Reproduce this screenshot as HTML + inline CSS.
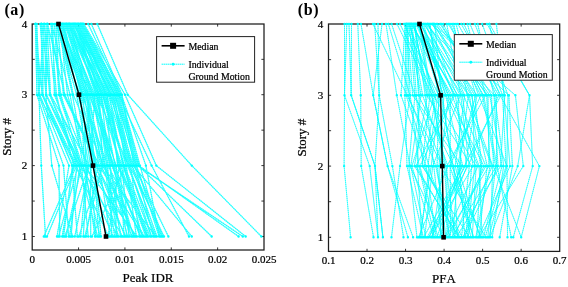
<!DOCTYPE html>
<html lang="en"><head><meta charset="utf-8"><title>Figure</title>
<style>
html,body{margin:0;padding:0;background:#fff}
svg{display:block}
text{font-family:"Liberation Serif",serif;fill:#000;font-kerning:none;stroke:#000;stroke-width:0.22px}
.tk{font-size:11px}
.al{font-size:13px}
.lg{font-size:9.85px}
.pl{font-size:16px;font-weight:bold;fill:#000;letter-spacing:0.6px;stroke-width:0}
</style></head><body>
<svg width="568" height="287" viewBox="0 0 568 287">
<rect width="568" height="287" fill="#fff"/>
<path d="M78.56 250.0v-2.6M78.56 24.0v2.6M124.92 250.0v-2.6M124.92 24.0v2.6M171.28 250.0v-2.6M171.28 24.0v2.6M217.64 250.0v-2.6M217.64 24.0v2.6M32.2 94.70h2.6M264.0 94.70h-2.6M32.2 165.60h2.6M264.0 165.60h-2.6M32.2 236.50h2.6M264.0 236.50h-2.6M32.2 59.35h2.6M264.0 59.35h-2.6M32.2 130.15h2.6M264.0 130.15h-2.6M32.2 201.05h2.6M264.0 201.05h-2.6" stroke="#222" stroke-width="0.9" fill="none"/>
<rect x="32.2" y="24.0" width="231.80" height="226.00" fill="none" stroke="#1c1c1c" stroke-width="1.25"/>
<defs><path id="ln1" d="M50.9 24.0L56.4 94.7L73.6 165.6L62.2 236.5M73.1 24.0L111.4 94.7L127.5 165.6L155.8 236.5M88.2 24.0L121.4 94.7L145.9 165.6L159.2 236.5M61.8 24.0L85.4 94.7L102.7 165.6L78.8 236.5M62.5 24.0L78.0 94.7L96.0 165.6L118.6 236.5M47.8 24.0L55.2 94.7L76.6 165.6L71.1 236.5M71.7 24.0L105.5 94.7L123.8 165.6L148.2 236.5M43.2 24.0L42.9 94.7L76.4 165.6L47.0 236.5M47.6 24.0L64.8 94.7L99.4 165.6L110.2 236.5M81.2 24.0L118.5 94.7L151.6 165.6L189.0 236.5M52.7 24.0L54.4 94.7L81.5 165.6L66.2 236.5M80.3 24.0L114.3 94.7L125.9 165.6L92.0 236.5M83.0 24.0L118.9 94.7L136.5 165.6L159.1 236.5M70.3 24.0L98.0 94.7L108.0 165.6L144.1 236.5M74.8 24.0L101.3 94.7L115.0 165.6L139.9 236.5M84.0 24.0L120.5 94.7L140.0 165.6L160.3 236.5M62.7 24.0L84.5 94.7L94.0 165.6L98.9 236.5M57.0 24.0L64.4 94.7L97.5 165.6L125.0 236.5M41.4 24.0L42.2 94.7L74.8 165.6L43.8 236.5M66.6 24.0L93.1 94.7L112.8 165.6L131.4 236.5M82.7 24.0L120.2 94.7L138.4 165.6L211.7 236.5M78.5 24.0L105.6 94.7L118.4 165.6L150.1 236.5M50.9 24.0L60.9 94.7L80.4 165.6L122.6 236.5M54.4 24.0L58.9 94.7L82.4 165.6L113.2 236.5M57.3 24.0L72.4 94.7L85.1 165.6L95.0 236.5M70.7 24.0L102.5 94.7L124.5 165.6L151.5 236.5M62.0 24.0L83.2 94.7L101.0 165.6L135.3 236.5M69.2 24.0L107.4 94.7L110.2 165.6L120.5 236.5M71.5 24.0L95.9 94.7L112.9 165.6L133.5 236.5M60.6 24.0L87.1 94.7L92.0 165.6L126.0 236.5M66.1 24.0L88.7 94.7L102.0 165.6L155.8 236.5M68.4 24.0L92.4 94.7L105.3 165.6L121.4 236.5M65.2 24.0L94.7 94.7L90.7 165.6L95.8 236.5M74.0 24.0L102.5 94.7L120.6 165.6L145.8 236.5M83.8 24.0L125.0 94.7L156.3 165.6L245.7 236.5M75.1 24.0L106.8 94.7L123.7 165.6L142.1 236.5M66.7 24.0L85.9 94.7L99.1 165.6L143.4 236.5M36.8 24.0L39.7 94.7L69.0 165.6L57.0 236.5M72.4 24.0L101.0 94.7L109.4 165.6L127.6 236.5M35.2 24.0L42.1 94.7L72.4 165.6L63.6 236.5M41.2 24.0L42.2 94.7L72.0 165.6L77.3 236.5M77.8 24.0L110.9 94.7L129.7 165.6L164.0 236.5M76.8 24.0L99.2 94.7L102.7 165.6L84.8 236.5M64.2 24.0L91.9 94.7L110.4 165.6L111.6 236.5M36.8 24.0L38.7 94.7L63.5 165.6L68.7 236.5M59.9 24.0L67.5 94.7L87.1 165.6L80.7 236.5M56.8 24.0L76.6 94.7L88.8 165.6L64.8 236.5M75.9 24.0L112.0 94.7L133.2 165.6L191.8 236.5M91.4 24.0L122.0 94.7L133.8 165.6L168.4 236.5M69.9 24.0L90.2 94.7L111.8 165.6L140.8 236.5M56.0 24.0L59.6 94.7L87.4 165.6L83.3 236.5M44.7 24.0L45.9 94.7L79.0 165.6L97.6 236.5M65.8 24.0L94.4 94.7L115.9 165.6L129.5 236.5M63.7 24.0L81.2 94.7L96.7 165.6L132.5 236.5M44.8 24.0L49.6 94.7L78.2 165.6L58.6 236.5M67.4 24.0L98.6 94.7L121.8 165.6L129.0 236.5M46.8 24.0L46.4 94.7L81.6 165.6L88.2 236.5M81.0 24.0L116.2 94.7L135.1 165.6L153.3 236.5M79.8 24.0L110.1 94.7L117.6 165.6L147.4 236.5M80.7 24.0L109.9 94.7L131.8 165.6L156.9 236.5M57.5 24.0L63.4 94.7L97.9 165.6L86.0 236.5M74.2 24.0L114.9 94.7L136.1 165.6L162.8 236.5M64.9 24.0L86.8 94.7L104.7 165.6L114.6 236.5M57.8 24.0L83.3 94.7L85.9 165.6L117.3 236.5M60.2 24.0L82.1 94.7L107.7 165.6L112.0 236.5M41.6 24.0L50.0 94.7L79.9 165.6L69.5 236.5M40.2 24.0L45.9 94.7L51.8 165.6L72.7 236.5M76.9 24.0L116.8 94.7L137.4 165.6L242.8 236.5M63.6 24.0L81.0 94.7L84.3 165.6L137.0 236.5M69.3 24.0L87.8 94.7L94.9 165.6L101.0 236.5M78.8 24.0L108.9 94.7L122.8 165.6L147.0 236.5M35.8 24.0L38.6 94.7L75.6 165.6L108.5 236.5M55.8 24.0L80.0 94.7L90.5 165.6L90.7 236.5M67.8 24.0L99.8 94.7L120.2 165.6L124.0 236.5M72.7 24.0L96.2 94.7L128.7 165.6L154.5 236.5M59.5 24.0L73.2 94.7L103.9 165.6L134.3 236.5M79.0 24.0L112.9 94.7L130.8 165.6L139.2 236.5M68.6 24.0L104.3 94.7L119.4 165.6L108.0 236.5M44.0 24.0L39.0 94.7L41.3 165.6L45.5 236.5M51.7 24.0L70.0 94.7L83.2 165.6L100.1 236.5M77.5 24.0L103.5 94.7L126.3 165.6L136.4 236.5M73.6 24.0L108.2 94.7L129.0 165.6L151.5 236.5M35.4 24.0L36.9 94.7L59.0 165.6L59.7 236.5M82.5 24.0L117.7 94.7L138.9 165.6L238.6 236.5M75.6 24.0L97.0 94.7L106.7 165.6L117.4 236.5M81.7 24.0L115.0 94.7L132.1 165.6L161.9 236.5M58.0 24.0L91.4 94.7L116.2 165.6L116.0 236.5M61.1 24.0L89.3 94.7L114.1 165.6L127.0 236.5M47.0 24.0L50.5 94.7L89.2 165.6L74.8 236.5M97.3 24.0L127.7 94.7L191.8 165.6L261.4 236.5"/></defs>
<use href="#ln1" fill="none" stroke="#00ffff" stroke-width="1.15" stroke-opacity="0.55" stroke-linejoin="round"/>
<use href="#ln1" fill="none" stroke="#00ffff" stroke-width="1.15" stroke-opacity="0.8" stroke-dasharray="1.2 0.8" stroke-linejoin="round"/>
<path d="M49.7 24.0a1.2 1.2 0 1 0 2.4 0a1.2 1.2 0 1 0 -2.4 0M55.2 94.7a1.2 1.2 0 1 0 2.4 0a1.2 1.2 0 1 0 -2.4 0M72.4 165.6a1.2 1.2 0 1 0 2.4 0a1.2 1.2 0 1 0 -2.4 0M61.0 236.5a1.2 1.2 0 1 0 2.4 0a1.2 1.2 0 1 0 -2.4 0M71.9 24.0a1.2 1.2 0 1 0 2.4 0a1.2 1.2 0 1 0 -2.4 0M110.2 94.7a1.2 1.2 0 1 0 2.4 0a1.2 1.2 0 1 0 -2.4 0M126.3 165.6a1.2 1.2 0 1 0 2.4 0a1.2 1.2 0 1 0 -2.4 0M154.6 236.5a1.2 1.2 0 1 0 2.4 0a1.2 1.2 0 1 0 -2.4 0M87.0 24.0a1.2 1.2 0 1 0 2.4 0a1.2 1.2 0 1 0 -2.4 0M120.2 94.7a1.2 1.2 0 1 0 2.4 0a1.2 1.2 0 1 0 -2.4 0M144.7 165.6a1.2 1.2 0 1 0 2.4 0a1.2 1.2 0 1 0 -2.4 0M158.0 236.5a1.2 1.2 0 1 0 2.4 0a1.2 1.2 0 1 0 -2.4 0M60.6 24.0a1.2 1.2 0 1 0 2.4 0a1.2 1.2 0 1 0 -2.4 0M84.2 94.7a1.2 1.2 0 1 0 2.4 0a1.2 1.2 0 1 0 -2.4 0M101.5 165.6a1.2 1.2 0 1 0 2.4 0a1.2 1.2 0 1 0 -2.4 0M77.6 236.5a1.2 1.2 0 1 0 2.4 0a1.2 1.2 0 1 0 -2.4 0M61.3 24.0a1.2 1.2 0 1 0 2.4 0a1.2 1.2 0 1 0 -2.4 0M76.8 94.7a1.2 1.2 0 1 0 2.4 0a1.2 1.2 0 1 0 -2.4 0M94.8 165.6a1.2 1.2 0 1 0 2.4 0a1.2 1.2 0 1 0 -2.4 0M117.4 236.5a1.2 1.2 0 1 0 2.4 0a1.2 1.2 0 1 0 -2.4 0M46.6 24.0a1.2 1.2 0 1 0 2.4 0a1.2 1.2 0 1 0 -2.4 0M54.0 94.7a1.2 1.2 0 1 0 2.4 0a1.2 1.2 0 1 0 -2.4 0M75.4 165.6a1.2 1.2 0 1 0 2.4 0a1.2 1.2 0 1 0 -2.4 0M69.9 236.5a1.2 1.2 0 1 0 2.4 0a1.2 1.2 0 1 0 -2.4 0M70.5 24.0a1.2 1.2 0 1 0 2.4 0a1.2 1.2 0 1 0 -2.4 0M104.3 94.7a1.2 1.2 0 1 0 2.4 0a1.2 1.2 0 1 0 -2.4 0M122.6 165.6a1.2 1.2 0 1 0 2.4 0a1.2 1.2 0 1 0 -2.4 0M147.0 236.5a1.2 1.2 0 1 0 2.4 0a1.2 1.2 0 1 0 -2.4 0M42.0 24.0a1.2 1.2 0 1 0 2.4 0a1.2 1.2 0 1 0 -2.4 0M41.7 94.7a1.2 1.2 0 1 0 2.4 0a1.2 1.2 0 1 0 -2.4 0M75.2 165.6a1.2 1.2 0 1 0 2.4 0a1.2 1.2 0 1 0 -2.4 0M45.8 236.5a1.2 1.2 0 1 0 2.4 0a1.2 1.2 0 1 0 -2.4 0M46.4 24.0a1.2 1.2 0 1 0 2.4 0a1.2 1.2 0 1 0 -2.4 0M63.6 94.7a1.2 1.2 0 1 0 2.4 0a1.2 1.2 0 1 0 -2.4 0M98.2 165.6a1.2 1.2 0 1 0 2.4 0a1.2 1.2 0 1 0 -2.4 0M109.0 236.5a1.2 1.2 0 1 0 2.4 0a1.2 1.2 0 1 0 -2.4 0M80.0 24.0a1.2 1.2 0 1 0 2.4 0a1.2 1.2 0 1 0 -2.4 0M117.3 94.7a1.2 1.2 0 1 0 2.4 0a1.2 1.2 0 1 0 -2.4 0M150.4 165.6a1.2 1.2 0 1 0 2.4 0a1.2 1.2 0 1 0 -2.4 0M187.8 236.5a1.2 1.2 0 1 0 2.4 0a1.2 1.2 0 1 0 -2.4 0M51.5 24.0a1.2 1.2 0 1 0 2.4 0a1.2 1.2 0 1 0 -2.4 0M53.2 94.7a1.2 1.2 0 1 0 2.4 0a1.2 1.2 0 1 0 -2.4 0M80.3 165.6a1.2 1.2 0 1 0 2.4 0a1.2 1.2 0 1 0 -2.4 0M65.0 236.5a1.2 1.2 0 1 0 2.4 0a1.2 1.2 0 1 0 -2.4 0M79.1 24.0a1.2 1.2 0 1 0 2.4 0a1.2 1.2 0 1 0 -2.4 0M113.1 94.7a1.2 1.2 0 1 0 2.4 0a1.2 1.2 0 1 0 -2.4 0M124.7 165.6a1.2 1.2 0 1 0 2.4 0a1.2 1.2 0 1 0 -2.4 0M90.8 236.5a1.2 1.2 0 1 0 2.4 0a1.2 1.2 0 1 0 -2.4 0M81.8 24.0a1.2 1.2 0 1 0 2.4 0a1.2 1.2 0 1 0 -2.4 0M117.7 94.7a1.2 1.2 0 1 0 2.4 0a1.2 1.2 0 1 0 -2.4 0M135.3 165.6a1.2 1.2 0 1 0 2.4 0a1.2 1.2 0 1 0 -2.4 0M157.9 236.5a1.2 1.2 0 1 0 2.4 0a1.2 1.2 0 1 0 -2.4 0M69.1 24.0a1.2 1.2 0 1 0 2.4 0a1.2 1.2 0 1 0 -2.4 0M96.8 94.7a1.2 1.2 0 1 0 2.4 0a1.2 1.2 0 1 0 -2.4 0M106.8 165.6a1.2 1.2 0 1 0 2.4 0a1.2 1.2 0 1 0 -2.4 0M142.9 236.5a1.2 1.2 0 1 0 2.4 0a1.2 1.2 0 1 0 -2.4 0M73.6 24.0a1.2 1.2 0 1 0 2.4 0a1.2 1.2 0 1 0 -2.4 0M100.1 94.7a1.2 1.2 0 1 0 2.4 0a1.2 1.2 0 1 0 -2.4 0M113.8 165.6a1.2 1.2 0 1 0 2.4 0a1.2 1.2 0 1 0 -2.4 0M138.7 236.5a1.2 1.2 0 1 0 2.4 0a1.2 1.2 0 1 0 -2.4 0M82.8 24.0a1.2 1.2 0 1 0 2.4 0a1.2 1.2 0 1 0 -2.4 0M119.3 94.7a1.2 1.2 0 1 0 2.4 0a1.2 1.2 0 1 0 -2.4 0M138.8 165.6a1.2 1.2 0 1 0 2.4 0a1.2 1.2 0 1 0 -2.4 0M159.1 236.5a1.2 1.2 0 1 0 2.4 0a1.2 1.2 0 1 0 -2.4 0M61.5 24.0a1.2 1.2 0 1 0 2.4 0a1.2 1.2 0 1 0 -2.4 0M83.3 94.7a1.2 1.2 0 1 0 2.4 0a1.2 1.2 0 1 0 -2.4 0M92.8 165.6a1.2 1.2 0 1 0 2.4 0a1.2 1.2 0 1 0 -2.4 0M97.7 236.5a1.2 1.2 0 1 0 2.4 0a1.2 1.2 0 1 0 -2.4 0M55.8 24.0a1.2 1.2 0 1 0 2.4 0a1.2 1.2 0 1 0 -2.4 0M63.2 94.7a1.2 1.2 0 1 0 2.4 0a1.2 1.2 0 1 0 -2.4 0M96.3 165.6a1.2 1.2 0 1 0 2.4 0a1.2 1.2 0 1 0 -2.4 0M123.8 236.5a1.2 1.2 0 1 0 2.4 0a1.2 1.2 0 1 0 -2.4 0M40.2 24.0a1.2 1.2 0 1 0 2.4 0a1.2 1.2 0 1 0 -2.4 0M41.0 94.7a1.2 1.2 0 1 0 2.4 0a1.2 1.2 0 1 0 -2.4 0M73.6 165.6a1.2 1.2 0 1 0 2.4 0a1.2 1.2 0 1 0 -2.4 0M42.6 236.5a1.2 1.2 0 1 0 2.4 0a1.2 1.2 0 1 0 -2.4 0M65.4 24.0a1.2 1.2 0 1 0 2.4 0a1.2 1.2 0 1 0 -2.4 0M91.9 94.7a1.2 1.2 0 1 0 2.4 0a1.2 1.2 0 1 0 -2.4 0M111.6 165.6a1.2 1.2 0 1 0 2.4 0a1.2 1.2 0 1 0 -2.4 0M130.2 236.5a1.2 1.2 0 1 0 2.4 0a1.2 1.2 0 1 0 -2.4 0M81.5 24.0a1.2 1.2 0 1 0 2.4 0a1.2 1.2 0 1 0 -2.4 0M119.0 94.7a1.2 1.2 0 1 0 2.4 0a1.2 1.2 0 1 0 -2.4 0M137.2 165.6a1.2 1.2 0 1 0 2.4 0a1.2 1.2 0 1 0 -2.4 0M210.5 236.5a1.2 1.2 0 1 0 2.4 0a1.2 1.2 0 1 0 -2.4 0M77.3 24.0a1.2 1.2 0 1 0 2.4 0a1.2 1.2 0 1 0 -2.4 0M104.4 94.7a1.2 1.2 0 1 0 2.4 0a1.2 1.2 0 1 0 -2.4 0M117.2 165.6a1.2 1.2 0 1 0 2.4 0a1.2 1.2 0 1 0 -2.4 0M148.9 236.5a1.2 1.2 0 1 0 2.4 0a1.2 1.2 0 1 0 -2.4 0M49.7 24.0a1.2 1.2 0 1 0 2.4 0a1.2 1.2 0 1 0 -2.4 0M59.7 94.7a1.2 1.2 0 1 0 2.4 0a1.2 1.2 0 1 0 -2.4 0M79.2 165.6a1.2 1.2 0 1 0 2.4 0a1.2 1.2 0 1 0 -2.4 0M121.4 236.5a1.2 1.2 0 1 0 2.4 0a1.2 1.2 0 1 0 -2.4 0M53.2 24.0a1.2 1.2 0 1 0 2.4 0a1.2 1.2 0 1 0 -2.4 0M57.7 94.7a1.2 1.2 0 1 0 2.4 0a1.2 1.2 0 1 0 -2.4 0M81.2 165.6a1.2 1.2 0 1 0 2.4 0a1.2 1.2 0 1 0 -2.4 0M112.0 236.5a1.2 1.2 0 1 0 2.4 0a1.2 1.2 0 1 0 -2.4 0M56.1 24.0a1.2 1.2 0 1 0 2.4 0a1.2 1.2 0 1 0 -2.4 0M71.2 94.7a1.2 1.2 0 1 0 2.4 0a1.2 1.2 0 1 0 -2.4 0M83.9 165.6a1.2 1.2 0 1 0 2.4 0a1.2 1.2 0 1 0 -2.4 0M93.8 236.5a1.2 1.2 0 1 0 2.4 0a1.2 1.2 0 1 0 -2.4 0M69.5 24.0a1.2 1.2 0 1 0 2.4 0a1.2 1.2 0 1 0 -2.4 0M101.3 94.7a1.2 1.2 0 1 0 2.4 0a1.2 1.2 0 1 0 -2.4 0M123.3 165.6a1.2 1.2 0 1 0 2.4 0a1.2 1.2 0 1 0 -2.4 0M150.3 236.5a1.2 1.2 0 1 0 2.4 0a1.2 1.2 0 1 0 -2.4 0M60.8 24.0a1.2 1.2 0 1 0 2.4 0a1.2 1.2 0 1 0 -2.4 0M82.0 94.7a1.2 1.2 0 1 0 2.4 0a1.2 1.2 0 1 0 -2.4 0M99.8 165.6a1.2 1.2 0 1 0 2.4 0a1.2 1.2 0 1 0 -2.4 0M134.1 236.5a1.2 1.2 0 1 0 2.4 0a1.2 1.2 0 1 0 -2.4 0M68.0 24.0a1.2 1.2 0 1 0 2.4 0a1.2 1.2 0 1 0 -2.4 0M106.2 94.7a1.2 1.2 0 1 0 2.4 0a1.2 1.2 0 1 0 -2.4 0M109.0 165.6a1.2 1.2 0 1 0 2.4 0a1.2 1.2 0 1 0 -2.4 0M119.3 236.5a1.2 1.2 0 1 0 2.4 0a1.2 1.2 0 1 0 -2.4 0M70.3 24.0a1.2 1.2 0 1 0 2.4 0a1.2 1.2 0 1 0 -2.4 0M94.7 94.7a1.2 1.2 0 1 0 2.4 0a1.2 1.2 0 1 0 -2.4 0M111.7 165.6a1.2 1.2 0 1 0 2.4 0a1.2 1.2 0 1 0 -2.4 0M132.3 236.5a1.2 1.2 0 1 0 2.4 0a1.2 1.2 0 1 0 -2.4 0M59.4 24.0a1.2 1.2 0 1 0 2.4 0a1.2 1.2 0 1 0 -2.4 0M85.9 94.7a1.2 1.2 0 1 0 2.4 0a1.2 1.2 0 1 0 -2.4 0M90.8 165.6a1.2 1.2 0 1 0 2.4 0a1.2 1.2 0 1 0 -2.4 0M124.8 236.5a1.2 1.2 0 1 0 2.4 0a1.2 1.2 0 1 0 -2.4 0M64.9 24.0a1.2 1.2 0 1 0 2.4 0a1.2 1.2 0 1 0 -2.4 0M87.5 94.7a1.2 1.2 0 1 0 2.4 0a1.2 1.2 0 1 0 -2.4 0M100.8 165.6a1.2 1.2 0 1 0 2.4 0a1.2 1.2 0 1 0 -2.4 0M154.6 236.5a1.2 1.2 0 1 0 2.4 0a1.2 1.2 0 1 0 -2.4 0M67.2 24.0a1.2 1.2 0 1 0 2.4 0a1.2 1.2 0 1 0 -2.4 0M91.2 94.7a1.2 1.2 0 1 0 2.4 0a1.2 1.2 0 1 0 -2.4 0M104.1 165.6a1.2 1.2 0 1 0 2.4 0a1.2 1.2 0 1 0 -2.4 0M120.2 236.5a1.2 1.2 0 1 0 2.4 0a1.2 1.2 0 1 0 -2.4 0M64.0 24.0a1.2 1.2 0 1 0 2.4 0a1.2 1.2 0 1 0 -2.4 0M93.5 94.7a1.2 1.2 0 1 0 2.4 0a1.2 1.2 0 1 0 -2.4 0M89.5 165.6a1.2 1.2 0 1 0 2.4 0a1.2 1.2 0 1 0 -2.4 0M94.6 236.5a1.2 1.2 0 1 0 2.4 0a1.2 1.2 0 1 0 -2.4 0M72.8 24.0a1.2 1.2 0 1 0 2.4 0a1.2 1.2 0 1 0 -2.4 0M101.3 94.7a1.2 1.2 0 1 0 2.4 0a1.2 1.2 0 1 0 -2.4 0M119.4 165.6a1.2 1.2 0 1 0 2.4 0a1.2 1.2 0 1 0 -2.4 0M144.6 236.5a1.2 1.2 0 1 0 2.4 0a1.2 1.2 0 1 0 -2.4 0M82.6 24.0a1.2 1.2 0 1 0 2.4 0a1.2 1.2 0 1 0 -2.4 0M123.8 94.7a1.2 1.2 0 1 0 2.4 0a1.2 1.2 0 1 0 -2.4 0M155.1 165.6a1.2 1.2 0 1 0 2.4 0a1.2 1.2 0 1 0 -2.4 0M244.5 236.5a1.2 1.2 0 1 0 2.4 0a1.2 1.2 0 1 0 -2.4 0M73.9 24.0a1.2 1.2 0 1 0 2.4 0a1.2 1.2 0 1 0 -2.4 0M105.6 94.7a1.2 1.2 0 1 0 2.4 0a1.2 1.2 0 1 0 -2.4 0M122.5 165.6a1.2 1.2 0 1 0 2.4 0a1.2 1.2 0 1 0 -2.4 0M140.9 236.5a1.2 1.2 0 1 0 2.4 0a1.2 1.2 0 1 0 -2.4 0M65.5 24.0a1.2 1.2 0 1 0 2.4 0a1.2 1.2 0 1 0 -2.4 0M84.7 94.7a1.2 1.2 0 1 0 2.4 0a1.2 1.2 0 1 0 -2.4 0M97.9 165.6a1.2 1.2 0 1 0 2.4 0a1.2 1.2 0 1 0 -2.4 0M142.2 236.5a1.2 1.2 0 1 0 2.4 0a1.2 1.2 0 1 0 -2.4 0M35.6 24.0a1.2 1.2 0 1 0 2.4 0a1.2 1.2 0 1 0 -2.4 0M38.5 94.7a1.2 1.2 0 1 0 2.4 0a1.2 1.2 0 1 0 -2.4 0M67.8 165.6a1.2 1.2 0 1 0 2.4 0a1.2 1.2 0 1 0 -2.4 0M55.8 236.5a1.2 1.2 0 1 0 2.4 0a1.2 1.2 0 1 0 -2.4 0M71.2 24.0a1.2 1.2 0 1 0 2.4 0a1.2 1.2 0 1 0 -2.4 0M99.8 94.7a1.2 1.2 0 1 0 2.4 0a1.2 1.2 0 1 0 -2.4 0M108.2 165.6a1.2 1.2 0 1 0 2.4 0a1.2 1.2 0 1 0 -2.4 0M126.4 236.5a1.2 1.2 0 1 0 2.4 0a1.2 1.2 0 1 0 -2.4 0M34.0 24.0a1.2 1.2 0 1 0 2.4 0a1.2 1.2 0 1 0 -2.4 0M40.9 94.7a1.2 1.2 0 1 0 2.4 0a1.2 1.2 0 1 0 -2.4 0M71.2 165.6a1.2 1.2 0 1 0 2.4 0a1.2 1.2 0 1 0 -2.4 0M62.4 236.5a1.2 1.2 0 1 0 2.4 0a1.2 1.2 0 1 0 -2.4 0M40.0 24.0a1.2 1.2 0 1 0 2.4 0a1.2 1.2 0 1 0 -2.4 0M41.0 94.7a1.2 1.2 0 1 0 2.4 0a1.2 1.2 0 1 0 -2.4 0M70.8 165.6a1.2 1.2 0 1 0 2.4 0a1.2 1.2 0 1 0 -2.4 0M76.1 236.5a1.2 1.2 0 1 0 2.4 0a1.2 1.2 0 1 0 -2.4 0M76.6 24.0a1.2 1.2 0 1 0 2.4 0a1.2 1.2 0 1 0 -2.4 0M109.7 94.7a1.2 1.2 0 1 0 2.4 0a1.2 1.2 0 1 0 -2.4 0M128.5 165.6a1.2 1.2 0 1 0 2.4 0a1.2 1.2 0 1 0 -2.4 0M162.8 236.5a1.2 1.2 0 1 0 2.4 0a1.2 1.2 0 1 0 -2.4 0M75.6 24.0a1.2 1.2 0 1 0 2.4 0a1.2 1.2 0 1 0 -2.4 0M98.0 94.7a1.2 1.2 0 1 0 2.4 0a1.2 1.2 0 1 0 -2.4 0M101.5 165.6a1.2 1.2 0 1 0 2.4 0a1.2 1.2 0 1 0 -2.4 0M83.6 236.5a1.2 1.2 0 1 0 2.4 0a1.2 1.2 0 1 0 -2.4 0M63.0 24.0a1.2 1.2 0 1 0 2.4 0a1.2 1.2 0 1 0 -2.4 0M90.7 94.7a1.2 1.2 0 1 0 2.4 0a1.2 1.2 0 1 0 -2.4 0M109.2 165.6a1.2 1.2 0 1 0 2.4 0a1.2 1.2 0 1 0 -2.4 0M110.4 236.5a1.2 1.2 0 1 0 2.4 0a1.2 1.2 0 1 0 -2.4 0M35.6 24.0a1.2 1.2 0 1 0 2.4 0a1.2 1.2 0 1 0 -2.4 0M37.5 94.7a1.2 1.2 0 1 0 2.4 0a1.2 1.2 0 1 0 -2.4 0M62.3 165.6a1.2 1.2 0 1 0 2.4 0a1.2 1.2 0 1 0 -2.4 0M67.5 236.5a1.2 1.2 0 1 0 2.4 0a1.2 1.2 0 1 0 -2.4 0M58.7 24.0a1.2 1.2 0 1 0 2.4 0a1.2 1.2 0 1 0 -2.4 0M66.3 94.7a1.2 1.2 0 1 0 2.4 0a1.2 1.2 0 1 0 -2.4 0M85.9 165.6a1.2 1.2 0 1 0 2.4 0a1.2 1.2 0 1 0 -2.4 0M79.5 236.5a1.2 1.2 0 1 0 2.4 0a1.2 1.2 0 1 0 -2.4 0M55.6 24.0a1.2 1.2 0 1 0 2.4 0a1.2 1.2 0 1 0 -2.4 0M75.4 94.7a1.2 1.2 0 1 0 2.4 0a1.2 1.2 0 1 0 -2.4 0M87.6 165.6a1.2 1.2 0 1 0 2.4 0a1.2 1.2 0 1 0 -2.4 0M63.6 236.5a1.2 1.2 0 1 0 2.4 0a1.2 1.2 0 1 0 -2.4 0M74.7 24.0a1.2 1.2 0 1 0 2.4 0a1.2 1.2 0 1 0 -2.4 0M110.8 94.7a1.2 1.2 0 1 0 2.4 0a1.2 1.2 0 1 0 -2.4 0M132.0 165.6a1.2 1.2 0 1 0 2.4 0a1.2 1.2 0 1 0 -2.4 0M190.6 236.5a1.2 1.2 0 1 0 2.4 0a1.2 1.2 0 1 0 -2.4 0M90.2 24.0a1.2 1.2 0 1 0 2.4 0a1.2 1.2 0 1 0 -2.4 0M120.8 94.7a1.2 1.2 0 1 0 2.4 0a1.2 1.2 0 1 0 -2.4 0M132.6 165.6a1.2 1.2 0 1 0 2.4 0a1.2 1.2 0 1 0 -2.4 0M167.2 236.5a1.2 1.2 0 1 0 2.4 0a1.2 1.2 0 1 0 -2.4 0M68.7 24.0a1.2 1.2 0 1 0 2.4 0a1.2 1.2 0 1 0 -2.4 0M89.0 94.7a1.2 1.2 0 1 0 2.4 0a1.2 1.2 0 1 0 -2.4 0M110.6 165.6a1.2 1.2 0 1 0 2.4 0a1.2 1.2 0 1 0 -2.4 0M139.6 236.5a1.2 1.2 0 1 0 2.4 0a1.2 1.2 0 1 0 -2.4 0M54.8 24.0a1.2 1.2 0 1 0 2.4 0a1.2 1.2 0 1 0 -2.4 0M58.4 94.7a1.2 1.2 0 1 0 2.4 0a1.2 1.2 0 1 0 -2.4 0M86.2 165.6a1.2 1.2 0 1 0 2.4 0a1.2 1.2 0 1 0 -2.4 0M82.1 236.5a1.2 1.2 0 1 0 2.4 0a1.2 1.2 0 1 0 -2.4 0M43.5 24.0a1.2 1.2 0 1 0 2.4 0a1.2 1.2 0 1 0 -2.4 0M44.7 94.7a1.2 1.2 0 1 0 2.4 0a1.2 1.2 0 1 0 -2.4 0M77.8 165.6a1.2 1.2 0 1 0 2.4 0a1.2 1.2 0 1 0 -2.4 0M96.4 236.5a1.2 1.2 0 1 0 2.4 0a1.2 1.2 0 1 0 -2.4 0M64.6 24.0a1.2 1.2 0 1 0 2.4 0a1.2 1.2 0 1 0 -2.4 0M93.2 94.7a1.2 1.2 0 1 0 2.4 0a1.2 1.2 0 1 0 -2.4 0M114.7 165.6a1.2 1.2 0 1 0 2.4 0a1.2 1.2 0 1 0 -2.4 0M128.3 236.5a1.2 1.2 0 1 0 2.4 0a1.2 1.2 0 1 0 -2.4 0M62.5 24.0a1.2 1.2 0 1 0 2.4 0a1.2 1.2 0 1 0 -2.4 0M80.0 94.7a1.2 1.2 0 1 0 2.4 0a1.2 1.2 0 1 0 -2.4 0M95.5 165.6a1.2 1.2 0 1 0 2.4 0a1.2 1.2 0 1 0 -2.4 0M131.3 236.5a1.2 1.2 0 1 0 2.4 0a1.2 1.2 0 1 0 -2.4 0M43.6 24.0a1.2 1.2 0 1 0 2.4 0a1.2 1.2 0 1 0 -2.4 0M48.4 94.7a1.2 1.2 0 1 0 2.4 0a1.2 1.2 0 1 0 -2.4 0M77.0 165.6a1.2 1.2 0 1 0 2.4 0a1.2 1.2 0 1 0 -2.4 0M57.4 236.5a1.2 1.2 0 1 0 2.4 0a1.2 1.2 0 1 0 -2.4 0M66.2 24.0a1.2 1.2 0 1 0 2.4 0a1.2 1.2 0 1 0 -2.4 0M97.4 94.7a1.2 1.2 0 1 0 2.4 0a1.2 1.2 0 1 0 -2.4 0M120.6 165.6a1.2 1.2 0 1 0 2.4 0a1.2 1.2 0 1 0 -2.4 0M127.8 236.5a1.2 1.2 0 1 0 2.4 0a1.2 1.2 0 1 0 -2.4 0M45.6 24.0a1.2 1.2 0 1 0 2.4 0a1.2 1.2 0 1 0 -2.4 0M45.2 94.7a1.2 1.2 0 1 0 2.4 0a1.2 1.2 0 1 0 -2.4 0M80.4 165.6a1.2 1.2 0 1 0 2.4 0a1.2 1.2 0 1 0 -2.4 0M87.0 236.5a1.2 1.2 0 1 0 2.4 0a1.2 1.2 0 1 0 -2.4 0M79.8 24.0a1.2 1.2 0 1 0 2.4 0a1.2 1.2 0 1 0 -2.4 0M115.0 94.7a1.2 1.2 0 1 0 2.4 0a1.2 1.2 0 1 0 -2.4 0M133.9 165.6a1.2 1.2 0 1 0 2.4 0a1.2 1.2 0 1 0 -2.4 0M152.1 236.5a1.2 1.2 0 1 0 2.4 0a1.2 1.2 0 1 0 -2.4 0M78.6 24.0a1.2 1.2 0 1 0 2.4 0a1.2 1.2 0 1 0 -2.4 0M108.9 94.7a1.2 1.2 0 1 0 2.4 0a1.2 1.2 0 1 0 -2.4 0M116.4 165.6a1.2 1.2 0 1 0 2.4 0a1.2 1.2 0 1 0 -2.4 0M146.2 236.5a1.2 1.2 0 1 0 2.4 0a1.2 1.2 0 1 0 -2.4 0M79.5 24.0a1.2 1.2 0 1 0 2.4 0a1.2 1.2 0 1 0 -2.4 0M108.7 94.7a1.2 1.2 0 1 0 2.4 0a1.2 1.2 0 1 0 -2.4 0M130.6 165.6a1.2 1.2 0 1 0 2.4 0a1.2 1.2 0 1 0 -2.4 0M155.7 236.5a1.2 1.2 0 1 0 2.4 0a1.2 1.2 0 1 0 -2.4 0M56.3 24.0a1.2 1.2 0 1 0 2.4 0a1.2 1.2 0 1 0 -2.4 0M62.2 94.7a1.2 1.2 0 1 0 2.4 0a1.2 1.2 0 1 0 -2.4 0M96.7 165.6a1.2 1.2 0 1 0 2.4 0a1.2 1.2 0 1 0 -2.4 0M84.8 236.5a1.2 1.2 0 1 0 2.4 0a1.2 1.2 0 1 0 -2.4 0M73.0 24.0a1.2 1.2 0 1 0 2.4 0a1.2 1.2 0 1 0 -2.4 0M113.7 94.7a1.2 1.2 0 1 0 2.4 0a1.2 1.2 0 1 0 -2.4 0M134.9 165.6a1.2 1.2 0 1 0 2.4 0a1.2 1.2 0 1 0 -2.4 0M161.6 236.5a1.2 1.2 0 1 0 2.4 0a1.2 1.2 0 1 0 -2.4 0M63.7 24.0a1.2 1.2 0 1 0 2.4 0a1.2 1.2 0 1 0 -2.4 0M85.6 94.7a1.2 1.2 0 1 0 2.4 0a1.2 1.2 0 1 0 -2.4 0M103.5 165.6a1.2 1.2 0 1 0 2.4 0a1.2 1.2 0 1 0 -2.4 0M113.4 236.5a1.2 1.2 0 1 0 2.4 0a1.2 1.2 0 1 0 -2.4 0M56.6 24.0a1.2 1.2 0 1 0 2.4 0a1.2 1.2 0 1 0 -2.4 0M82.1 94.7a1.2 1.2 0 1 0 2.4 0a1.2 1.2 0 1 0 -2.4 0M84.7 165.6a1.2 1.2 0 1 0 2.4 0a1.2 1.2 0 1 0 -2.4 0M116.1 236.5a1.2 1.2 0 1 0 2.4 0a1.2 1.2 0 1 0 -2.4 0M59.0 24.0a1.2 1.2 0 1 0 2.4 0a1.2 1.2 0 1 0 -2.4 0M80.9 94.7a1.2 1.2 0 1 0 2.4 0a1.2 1.2 0 1 0 -2.4 0M106.5 165.6a1.2 1.2 0 1 0 2.4 0a1.2 1.2 0 1 0 -2.4 0M110.8 236.5a1.2 1.2 0 1 0 2.4 0a1.2 1.2 0 1 0 -2.4 0M40.4 24.0a1.2 1.2 0 1 0 2.4 0a1.2 1.2 0 1 0 -2.4 0M48.8 94.7a1.2 1.2 0 1 0 2.4 0a1.2 1.2 0 1 0 -2.4 0M78.7 165.6a1.2 1.2 0 1 0 2.4 0a1.2 1.2 0 1 0 -2.4 0M68.3 236.5a1.2 1.2 0 1 0 2.4 0a1.2 1.2 0 1 0 -2.4 0M39.0 24.0a1.2 1.2 0 1 0 2.4 0a1.2 1.2 0 1 0 -2.4 0M44.7 94.7a1.2 1.2 0 1 0 2.4 0a1.2 1.2 0 1 0 -2.4 0M50.6 165.6a1.2 1.2 0 1 0 2.4 0a1.2 1.2 0 1 0 -2.4 0M71.5 236.5a1.2 1.2 0 1 0 2.4 0a1.2 1.2 0 1 0 -2.4 0M75.7 24.0a1.2 1.2 0 1 0 2.4 0a1.2 1.2 0 1 0 -2.4 0M115.6 94.7a1.2 1.2 0 1 0 2.4 0a1.2 1.2 0 1 0 -2.4 0M136.2 165.6a1.2 1.2 0 1 0 2.4 0a1.2 1.2 0 1 0 -2.4 0M241.6 236.5a1.2 1.2 0 1 0 2.4 0a1.2 1.2 0 1 0 -2.4 0M62.4 24.0a1.2 1.2 0 1 0 2.4 0a1.2 1.2 0 1 0 -2.4 0M79.8 94.7a1.2 1.2 0 1 0 2.4 0a1.2 1.2 0 1 0 -2.4 0M83.1 165.6a1.2 1.2 0 1 0 2.4 0a1.2 1.2 0 1 0 -2.4 0M135.8 236.5a1.2 1.2 0 1 0 2.4 0a1.2 1.2 0 1 0 -2.4 0M68.1 24.0a1.2 1.2 0 1 0 2.4 0a1.2 1.2 0 1 0 -2.4 0M86.6 94.7a1.2 1.2 0 1 0 2.4 0a1.2 1.2 0 1 0 -2.4 0M93.7 165.6a1.2 1.2 0 1 0 2.4 0a1.2 1.2 0 1 0 -2.4 0M99.8 236.5a1.2 1.2 0 1 0 2.4 0a1.2 1.2 0 1 0 -2.4 0M77.6 24.0a1.2 1.2 0 1 0 2.4 0a1.2 1.2 0 1 0 -2.4 0M107.7 94.7a1.2 1.2 0 1 0 2.4 0a1.2 1.2 0 1 0 -2.4 0M121.6 165.6a1.2 1.2 0 1 0 2.4 0a1.2 1.2 0 1 0 -2.4 0M145.8 236.5a1.2 1.2 0 1 0 2.4 0a1.2 1.2 0 1 0 -2.4 0M34.6 24.0a1.2 1.2 0 1 0 2.4 0a1.2 1.2 0 1 0 -2.4 0M37.4 94.7a1.2 1.2 0 1 0 2.4 0a1.2 1.2 0 1 0 -2.4 0M74.4 165.6a1.2 1.2 0 1 0 2.4 0a1.2 1.2 0 1 0 -2.4 0M107.3 236.5a1.2 1.2 0 1 0 2.4 0a1.2 1.2 0 1 0 -2.4 0M54.6 24.0a1.2 1.2 0 1 0 2.4 0a1.2 1.2 0 1 0 -2.4 0M78.8 94.7a1.2 1.2 0 1 0 2.4 0a1.2 1.2 0 1 0 -2.4 0M89.3 165.6a1.2 1.2 0 1 0 2.4 0a1.2 1.2 0 1 0 -2.4 0M89.5 236.5a1.2 1.2 0 1 0 2.4 0a1.2 1.2 0 1 0 -2.4 0M66.6 24.0a1.2 1.2 0 1 0 2.4 0a1.2 1.2 0 1 0 -2.4 0M98.6 94.7a1.2 1.2 0 1 0 2.4 0a1.2 1.2 0 1 0 -2.4 0M119.0 165.6a1.2 1.2 0 1 0 2.4 0a1.2 1.2 0 1 0 -2.4 0M122.8 236.5a1.2 1.2 0 1 0 2.4 0a1.2 1.2 0 1 0 -2.4 0M71.5 24.0a1.2 1.2 0 1 0 2.4 0a1.2 1.2 0 1 0 -2.4 0M95.0 94.7a1.2 1.2 0 1 0 2.4 0a1.2 1.2 0 1 0 -2.4 0M127.5 165.6a1.2 1.2 0 1 0 2.4 0a1.2 1.2 0 1 0 -2.4 0M153.3 236.5a1.2 1.2 0 1 0 2.4 0a1.2 1.2 0 1 0 -2.4 0M58.3 24.0a1.2 1.2 0 1 0 2.4 0a1.2 1.2 0 1 0 -2.4 0M72.0 94.7a1.2 1.2 0 1 0 2.4 0a1.2 1.2 0 1 0 -2.4 0M102.7 165.6a1.2 1.2 0 1 0 2.4 0a1.2 1.2 0 1 0 -2.4 0M133.1 236.5a1.2 1.2 0 1 0 2.4 0a1.2 1.2 0 1 0 -2.4 0M77.8 24.0a1.2 1.2 0 1 0 2.4 0a1.2 1.2 0 1 0 -2.4 0M111.7 94.7a1.2 1.2 0 1 0 2.4 0a1.2 1.2 0 1 0 -2.4 0M129.6 165.6a1.2 1.2 0 1 0 2.4 0a1.2 1.2 0 1 0 -2.4 0M138.0 236.5a1.2 1.2 0 1 0 2.4 0a1.2 1.2 0 1 0 -2.4 0M67.4 24.0a1.2 1.2 0 1 0 2.4 0a1.2 1.2 0 1 0 -2.4 0M103.1 94.7a1.2 1.2 0 1 0 2.4 0a1.2 1.2 0 1 0 -2.4 0M118.2 165.6a1.2 1.2 0 1 0 2.4 0a1.2 1.2 0 1 0 -2.4 0M106.8 236.5a1.2 1.2 0 1 0 2.4 0a1.2 1.2 0 1 0 -2.4 0M42.8 24.0a1.2 1.2 0 1 0 2.4 0a1.2 1.2 0 1 0 -2.4 0M37.8 94.7a1.2 1.2 0 1 0 2.4 0a1.2 1.2 0 1 0 -2.4 0M40.1 165.6a1.2 1.2 0 1 0 2.4 0a1.2 1.2 0 1 0 -2.4 0M44.3 236.5a1.2 1.2 0 1 0 2.4 0a1.2 1.2 0 1 0 -2.4 0M50.5 24.0a1.2 1.2 0 1 0 2.4 0a1.2 1.2 0 1 0 -2.4 0M68.8 94.7a1.2 1.2 0 1 0 2.4 0a1.2 1.2 0 1 0 -2.4 0M82.0 165.6a1.2 1.2 0 1 0 2.4 0a1.2 1.2 0 1 0 -2.4 0M98.9 236.5a1.2 1.2 0 1 0 2.4 0a1.2 1.2 0 1 0 -2.4 0M76.3 24.0a1.2 1.2 0 1 0 2.4 0a1.2 1.2 0 1 0 -2.4 0M102.3 94.7a1.2 1.2 0 1 0 2.4 0a1.2 1.2 0 1 0 -2.4 0M125.1 165.6a1.2 1.2 0 1 0 2.4 0a1.2 1.2 0 1 0 -2.4 0M135.2 236.5a1.2 1.2 0 1 0 2.4 0a1.2 1.2 0 1 0 -2.4 0M72.4 24.0a1.2 1.2 0 1 0 2.4 0a1.2 1.2 0 1 0 -2.4 0M107.0 94.7a1.2 1.2 0 1 0 2.4 0a1.2 1.2 0 1 0 -2.4 0M127.8 165.6a1.2 1.2 0 1 0 2.4 0a1.2 1.2 0 1 0 -2.4 0M150.3 236.5a1.2 1.2 0 1 0 2.4 0a1.2 1.2 0 1 0 -2.4 0M34.2 24.0a1.2 1.2 0 1 0 2.4 0a1.2 1.2 0 1 0 -2.4 0M35.7 94.7a1.2 1.2 0 1 0 2.4 0a1.2 1.2 0 1 0 -2.4 0M57.8 165.6a1.2 1.2 0 1 0 2.4 0a1.2 1.2 0 1 0 -2.4 0M58.5 236.5a1.2 1.2 0 1 0 2.4 0a1.2 1.2 0 1 0 -2.4 0M81.3 24.0a1.2 1.2 0 1 0 2.4 0a1.2 1.2 0 1 0 -2.4 0M116.5 94.7a1.2 1.2 0 1 0 2.4 0a1.2 1.2 0 1 0 -2.4 0M137.7 165.6a1.2 1.2 0 1 0 2.4 0a1.2 1.2 0 1 0 -2.4 0M237.4 236.5a1.2 1.2 0 1 0 2.4 0a1.2 1.2 0 1 0 -2.4 0M74.4 24.0a1.2 1.2 0 1 0 2.4 0a1.2 1.2 0 1 0 -2.4 0M95.8 94.7a1.2 1.2 0 1 0 2.4 0a1.2 1.2 0 1 0 -2.4 0M105.5 165.6a1.2 1.2 0 1 0 2.4 0a1.2 1.2 0 1 0 -2.4 0M116.2 236.5a1.2 1.2 0 1 0 2.4 0a1.2 1.2 0 1 0 -2.4 0M80.5 24.0a1.2 1.2 0 1 0 2.4 0a1.2 1.2 0 1 0 -2.4 0M113.8 94.7a1.2 1.2 0 1 0 2.4 0a1.2 1.2 0 1 0 -2.4 0M130.9 165.6a1.2 1.2 0 1 0 2.4 0a1.2 1.2 0 1 0 -2.4 0M160.7 236.5a1.2 1.2 0 1 0 2.4 0a1.2 1.2 0 1 0 -2.4 0M56.8 24.0a1.2 1.2 0 1 0 2.4 0a1.2 1.2 0 1 0 -2.4 0M90.2 94.7a1.2 1.2 0 1 0 2.4 0a1.2 1.2 0 1 0 -2.4 0M115.0 165.6a1.2 1.2 0 1 0 2.4 0a1.2 1.2 0 1 0 -2.4 0M114.8 236.5a1.2 1.2 0 1 0 2.4 0a1.2 1.2 0 1 0 -2.4 0M59.9 24.0a1.2 1.2 0 1 0 2.4 0a1.2 1.2 0 1 0 -2.4 0M88.1 94.7a1.2 1.2 0 1 0 2.4 0a1.2 1.2 0 1 0 -2.4 0M112.9 165.6a1.2 1.2 0 1 0 2.4 0a1.2 1.2 0 1 0 -2.4 0M125.8 236.5a1.2 1.2 0 1 0 2.4 0a1.2 1.2 0 1 0 -2.4 0M45.8 24.0a1.2 1.2 0 1 0 2.4 0a1.2 1.2 0 1 0 -2.4 0M49.3 94.7a1.2 1.2 0 1 0 2.4 0a1.2 1.2 0 1 0 -2.4 0M88.0 165.6a1.2 1.2 0 1 0 2.4 0a1.2 1.2 0 1 0 -2.4 0M73.6 236.5a1.2 1.2 0 1 0 2.4 0a1.2 1.2 0 1 0 -2.4 0M96.1 24.0a1.2 1.2 0 1 0 2.4 0a1.2 1.2 0 1 0 -2.4 0M126.5 94.7a1.2 1.2 0 1 0 2.4 0a1.2 1.2 0 1 0 -2.4 0M190.6 165.6a1.2 1.2 0 1 0 2.4 0a1.2 1.2 0 1 0 -2.4 0M260.2 236.5a1.2 1.2 0 1 0 2.4 0a1.2 1.2 0 1 0 -2.4 0" fill="#00ffff"/>
<path d="M58.5 24.0L79.0 94.7L93.0 165.6L106.0 236.5" fill="none" stroke="#000" stroke-width="1.4"/>
<rect x="56.2" y="21.7" width="4.6" height="4.6" fill="#000"/>
<rect x="76.7" y="92.4" width="4.6" height="4.6" fill="#000"/>
<rect x="90.7" y="163.3" width="4.6" height="4.6" fill="#000"/>
<rect x="103.7" y="234.2" width="4.6" height="4.6" fill="#000"/>
<rect x="156.6" y="36.6" width="98" height="45.6" fill="#fff" stroke="#222" stroke-width="1"/>
<path d="M161.6 45.8h23" stroke="#000" stroke-width="1.6"/>
<rect x="170.1" y="42.8" width="6" height="6" fill="#000"/>
<path d="M161.6 64.2h23" stroke="#00ffff" stroke-width="1" stroke-dasharray="1.6 0.4"/>
<circle cx="173.1" cy="64.2" r="1.45" fill="#00ffff"/>
<text x="188.4" y="49.7" class="lg">Median</text>
<text x="188.4" y="67.5" class="lg">Individual</text>
<text x="188.4" y="79.5" class="lg">Ground Motion</text>
<text x="32.2" y="262.5" class="tk" text-anchor="middle">0</text>
<text x="78.6" y="262.5" class="tk" text-anchor="middle">0.005</text>
<text x="124.9" y="262.5" class="tk" text-anchor="middle">0.01</text>
<text x="171.3" y="262.5" class="tk" text-anchor="middle">0.015</text>
<text x="217.6" y="262.5" class="tk" text-anchor="middle">0.02</text>
<text x="264.0" y="262.5" class="tk" text-anchor="middle">0.025</text>
<text x="27.2" y="27.7" class="tk" text-anchor="end">4</text>
<text x="27.2" y="98.4" class="tk" text-anchor="end">3</text>
<text x="27.2" y="169.3" class="tk" text-anchor="end">2</text>
<text x="27.2" y="240.2" class="tk" text-anchor="end">1</text>
<text x="148" y="281.7" class="al" text-anchor="middle">Peak IDR</text>
<text transform="translate(10.5 136.9) rotate(-90)" class="al" text-anchor="middle">Story #</text>
<text x="4.4" y="14.6" class="pl">(a)</text>
<path d="M367.03 251.4v-2.6M367.03 24.0v2.6M405.56 251.4v-2.6M405.56 24.0v2.6M444.09 251.4v-2.6M444.09 24.0v2.6M482.62 251.4v-2.6M482.62 24.0v2.6M521.15 251.4v-2.6M521.15 24.0v2.6M328.5 95.30h2.6M559.7 95.30h-2.6M328.5 166.10h2.6M559.7 166.10h-2.6M328.5 237.30h2.6M559.7 237.30h-2.6M328.5 59.65h2.6M559.7 59.65h-2.6M328.5 130.70h2.6M559.7 130.70h-2.6M328.5 201.70h2.6M559.7 201.70h-2.6" stroke="#222" stroke-width="0.9" fill="none"/>
<rect x="328.5" y="24.0" width="231.20" height="227.40" fill="none" stroke="#1c1c1c" stroke-width="1.25"/>
<defs><path id="ln2" d="M344.5 24.0L344.5 95.3L344.1 166.1L350.6 237.3M346.8 24.0L344.5 95.3L369.7 166.1L378.0 237.3M349.0 24.0L351.2 95.3L375.0 166.1L382.9 237.3M351.5 24.0L351.2 95.3L375.0 166.1L378.0 237.3M357.8 24.0L360.7 95.3L361.2 166.1L373.5 237.3M361.0 24.0L373.2 95.3L387.6 166.1L407.9 237.3M373.0 24.0L407.0 95.3L442.3 166.1L442.4 237.3M374.7 24.0L379.2 95.3L375.0 166.1L382.9 237.3M378.0 24.0L379.2 95.3L392.4 166.1L403.5 237.3M382.0 24.0L373.2 95.3L387.6 166.1L413.1 237.3M386.0 24.0L396.8 95.3L410.0 166.1L443.4 237.3M388.4 24.0L410.0 95.3L400.0 166.1L391.5 237.3M391.6 24.0L415.0 95.3L443.1 166.1L432.4 237.3M397.0 24.0L432.0 95.3L444.5 166.1L449.1 237.3M400.0 24.0L434.8 95.3L411.9 166.1L433.7 237.3M404.0 24.0L438.8 95.3L437.1 166.1L446.0 237.3M489.5 24.0L529.5 95.3L532.7 166.1L513.3 237.3M487.0 24.0L529.5 95.3L517.7 166.1L490.0 237.3M470.0 24.0L500.0 95.3L539.4 166.1L521.2 237.3M448.3 24.0L491.6 95.3L493.4 166.1L521.2 237.3M433.4 24.0L515.4 95.3L523.3 166.1L479.0 237.3M452.1 24.0L478.7 95.3L507.0 166.1L507.5 237.3M431.1 24.0L508.9 95.3L512.4 166.1L499.7 237.3M441.2 24.0L483.6 95.3L497.0 166.1L511.2 237.3M412.9 24.0L444.0 95.3L439.1 166.1L440.6 237.3M427.7 24.0L471.4 95.3L487.2 166.1L479.0 237.3M407.9 24.0L408.1 95.3L435.8 166.1L449.7 237.3M467.5 24.0L485.5 95.3L446.9 166.1L447.0 237.3M414.4 24.0L433.3 95.3L476.1 166.1L472.3 237.3M407.1 24.0L412.7 95.3L462.0 166.1L428.8 237.3M416.8 24.0L455.3 95.3L466.9 166.1L439.0 237.3M414.8 24.0L425.2 95.3L433.8 166.1L441.6 237.3M423.4 24.0L446.0 95.3L477.9 166.1L444.6 237.3M409.4 24.0L414.9 95.3L408.9 166.1L417.0 237.3M432.1 24.0L488.0 95.3L488.9 166.1L445.7 237.3M496.4 24.0L504.0 95.3L510.0 166.1L478.2 237.3M408.1 24.0L421.0 95.3L410.8 166.1L425.8 237.3M428.4 24.0L456.9 95.3L485.8 166.1L448.1 237.3M415.6 24.0L450.3 95.3L450.2 166.1L450.6 237.3M426.1 24.0L453.5 95.3L415.8 166.1L458.7 237.3M406.6 24.0L410.2 95.3L419.0 166.1L434.6 237.3M408.6 24.0L435.9 95.3L424.4 166.1L460.2 237.3M434.0 24.0L474.6 95.3L481.7 166.1L468.0 237.3M420.7 24.0L460.3 95.3L432.7 166.1L424.7 237.3M474.9 24.0L502.6 95.3L506.1 166.1L485.2 237.3M412.1 24.0L419.2 95.3L417.5 166.1L421.9 237.3M423.9 24.0L469.4 95.3L480.8 166.1L476.9 237.3M489.3 24.0L504.8 95.3L500.5 166.1L456.2 237.3M411.3 24.0L416.3 95.3L423.0 166.1L462.4 237.3M409.8 24.0L426.8 95.3L471.7 166.1L465.7 237.3M421.4 24.0L445.5 95.3L462.8 166.1L423.7 237.3M419.4 24.0L468.4 95.3L459.4 166.1L464.8 237.3M443.2 24.0L480.8 95.3L449.8 166.1L473.9 237.3M422.0 24.0L447.8 95.3L483.9 166.1L453.9 237.3M411.7 24.0L452.0 95.3L479.1 166.1L482.1 237.3M427.3 24.0L477.0 95.3L465.3 166.1L427.2 237.3M482.2 24.0L508.0 95.3L506.9 166.1L488.9 237.3M457.9 24.0L498.7 95.3L468.0 166.1L429.0 237.3M405.8 24.0L404.9 95.3L407.0 166.1L423.3 237.3M418.2 24.0L439.8 95.3L431.2 166.1L419.7 237.3M410.2 24.0L422.6 95.3L447.9 166.1L418.6 237.3M440.1 24.0L486.7 95.3L490.1 166.1L475.8 237.3M417.8 24.0L448.7 95.3L440.1 166.1L486.1 237.3M477.7 24.0L494.0 95.3L498.0 166.1L464.2 237.3M450.0 24.0L482.4 95.3L495.6 166.1L487.8 237.3M446.7 24.0L460.7 95.3L469.3 166.1L461.5 237.3M424.5 24.0L463.6 95.3L492.2 166.1L463.0 237.3M419.7 24.0L431.5 95.3L445.8 166.1L455.2 237.3M429.3 24.0L442.5 95.3L451.7 166.1L481.1 237.3M463.9 24.0L496.3 95.3L496.6 166.1L451.7 237.3M436.5 24.0L472.4 95.3L474.7 166.1L467.3 237.3M415.4 24.0L418.4 95.3L453.8 166.1L457.4 237.3M461.3 24.0L500.9 95.3L464.3 166.1L431.6 237.3M425.6 24.0L494.6 95.3L503.7 166.1L492.2 237.3M418.9 24.0L429.9 95.3L422.1 166.1L469.7 237.3M410.8 24.0L458.1 95.3L460.9 166.1L437.0 237.3M413.8 24.0L427.5 95.3L414.4 166.1L459.6 237.3M413.3 24.0L428.8 95.3L458.3 166.1L452.7 237.3M405.0 24.0L401.0 95.3L426.2 166.1L436.1 237.3M453.8 24.0L467.2 95.3L492.8 166.1L490.2 237.3M437.6 24.0L489.8 95.3L502.0 166.1L483.4 237.3M417.2 24.0L454.7 95.3L419.9 166.1L437.9 237.3M456.0 24.0L475.7 95.3L457.1 166.1L480.2 237.3M432.8 24.0L464.7 95.3L455.2 166.1L473.0 237.3M430.2 24.0L437.7 95.3L427.9 166.1L454.8 237.3M406.3 24.0L406.1 95.3L429.2 166.1L420.5 237.3M416.3 24.0L462.2 95.3L473.1 166.1L430.9 237.3M434.8 24.0L441.2 95.3L453.1 166.1L471.0 237.3"/></defs>
<use href="#ln2" fill="none" stroke="#00ffff" stroke-width="1.0" stroke-opacity="0.45" stroke-linejoin="round"/>
<use href="#ln2" fill="none" stroke="#00ffff" stroke-width="1.0" stroke-opacity="0.75" stroke-dasharray="1.2 0.8" stroke-linejoin="round"/>
<path d="M343.3 24.0a1.2 1.2 0 1 0 2.4 0a1.2 1.2 0 1 0 -2.4 0M343.3 95.3a1.2 1.2 0 1 0 2.4 0a1.2 1.2 0 1 0 -2.4 0M342.9 166.1a1.2 1.2 0 1 0 2.4 0a1.2 1.2 0 1 0 -2.4 0M349.4 237.3a1.2 1.2 0 1 0 2.4 0a1.2 1.2 0 1 0 -2.4 0M345.6 24.0a1.2 1.2 0 1 0 2.4 0a1.2 1.2 0 1 0 -2.4 0M343.3 95.3a1.2 1.2 0 1 0 2.4 0a1.2 1.2 0 1 0 -2.4 0M368.5 166.1a1.2 1.2 0 1 0 2.4 0a1.2 1.2 0 1 0 -2.4 0M376.8 237.3a1.2 1.2 0 1 0 2.4 0a1.2 1.2 0 1 0 -2.4 0M347.8 24.0a1.2 1.2 0 1 0 2.4 0a1.2 1.2 0 1 0 -2.4 0M350.0 95.3a1.2 1.2 0 1 0 2.4 0a1.2 1.2 0 1 0 -2.4 0M373.8 166.1a1.2 1.2 0 1 0 2.4 0a1.2 1.2 0 1 0 -2.4 0M381.7 237.3a1.2 1.2 0 1 0 2.4 0a1.2 1.2 0 1 0 -2.4 0M350.3 24.0a1.2 1.2 0 1 0 2.4 0a1.2 1.2 0 1 0 -2.4 0M350.0 95.3a1.2 1.2 0 1 0 2.4 0a1.2 1.2 0 1 0 -2.4 0M373.8 166.1a1.2 1.2 0 1 0 2.4 0a1.2 1.2 0 1 0 -2.4 0M376.8 237.3a1.2 1.2 0 1 0 2.4 0a1.2 1.2 0 1 0 -2.4 0M356.6 24.0a1.2 1.2 0 1 0 2.4 0a1.2 1.2 0 1 0 -2.4 0M359.5 95.3a1.2 1.2 0 1 0 2.4 0a1.2 1.2 0 1 0 -2.4 0M360.0 166.1a1.2 1.2 0 1 0 2.4 0a1.2 1.2 0 1 0 -2.4 0M372.3 237.3a1.2 1.2 0 1 0 2.4 0a1.2 1.2 0 1 0 -2.4 0M359.8 24.0a1.2 1.2 0 1 0 2.4 0a1.2 1.2 0 1 0 -2.4 0M372.0 95.3a1.2 1.2 0 1 0 2.4 0a1.2 1.2 0 1 0 -2.4 0M386.4 166.1a1.2 1.2 0 1 0 2.4 0a1.2 1.2 0 1 0 -2.4 0M406.7 237.3a1.2 1.2 0 1 0 2.4 0a1.2 1.2 0 1 0 -2.4 0M371.8 24.0a1.2 1.2 0 1 0 2.4 0a1.2 1.2 0 1 0 -2.4 0M405.8 95.3a1.2 1.2 0 1 0 2.4 0a1.2 1.2 0 1 0 -2.4 0M441.1 166.1a1.2 1.2 0 1 0 2.4 0a1.2 1.2 0 1 0 -2.4 0M441.2 237.3a1.2 1.2 0 1 0 2.4 0a1.2 1.2 0 1 0 -2.4 0M373.5 24.0a1.2 1.2 0 1 0 2.4 0a1.2 1.2 0 1 0 -2.4 0M378.0 95.3a1.2 1.2 0 1 0 2.4 0a1.2 1.2 0 1 0 -2.4 0M373.8 166.1a1.2 1.2 0 1 0 2.4 0a1.2 1.2 0 1 0 -2.4 0M381.7 237.3a1.2 1.2 0 1 0 2.4 0a1.2 1.2 0 1 0 -2.4 0M376.8 24.0a1.2 1.2 0 1 0 2.4 0a1.2 1.2 0 1 0 -2.4 0M378.0 95.3a1.2 1.2 0 1 0 2.4 0a1.2 1.2 0 1 0 -2.4 0M391.2 166.1a1.2 1.2 0 1 0 2.4 0a1.2 1.2 0 1 0 -2.4 0M402.3 237.3a1.2 1.2 0 1 0 2.4 0a1.2 1.2 0 1 0 -2.4 0M380.8 24.0a1.2 1.2 0 1 0 2.4 0a1.2 1.2 0 1 0 -2.4 0M372.0 95.3a1.2 1.2 0 1 0 2.4 0a1.2 1.2 0 1 0 -2.4 0M386.4 166.1a1.2 1.2 0 1 0 2.4 0a1.2 1.2 0 1 0 -2.4 0M411.9 237.3a1.2 1.2 0 1 0 2.4 0a1.2 1.2 0 1 0 -2.4 0M384.8 24.0a1.2 1.2 0 1 0 2.4 0a1.2 1.2 0 1 0 -2.4 0M395.6 95.3a1.2 1.2 0 1 0 2.4 0a1.2 1.2 0 1 0 -2.4 0M408.8 166.1a1.2 1.2 0 1 0 2.4 0a1.2 1.2 0 1 0 -2.4 0M442.2 237.3a1.2 1.2 0 1 0 2.4 0a1.2 1.2 0 1 0 -2.4 0M387.2 24.0a1.2 1.2 0 1 0 2.4 0a1.2 1.2 0 1 0 -2.4 0M408.8 95.3a1.2 1.2 0 1 0 2.4 0a1.2 1.2 0 1 0 -2.4 0M398.8 166.1a1.2 1.2 0 1 0 2.4 0a1.2 1.2 0 1 0 -2.4 0M390.3 237.3a1.2 1.2 0 1 0 2.4 0a1.2 1.2 0 1 0 -2.4 0M390.4 24.0a1.2 1.2 0 1 0 2.4 0a1.2 1.2 0 1 0 -2.4 0M413.8 95.3a1.2 1.2 0 1 0 2.4 0a1.2 1.2 0 1 0 -2.4 0M441.9 166.1a1.2 1.2 0 1 0 2.4 0a1.2 1.2 0 1 0 -2.4 0M431.2 237.3a1.2 1.2 0 1 0 2.4 0a1.2 1.2 0 1 0 -2.4 0M395.8 24.0a1.2 1.2 0 1 0 2.4 0a1.2 1.2 0 1 0 -2.4 0M430.8 95.3a1.2 1.2 0 1 0 2.4 0a1.2 1.2 0 1 0 -2.4 0M443.3 166.1a1.2 1.2 0 1 0 2.4 0a1.2 1.2 0 1 0 -2.4 0M447.9 237.3a1.2 1.2 0 1 0 2.4 0a1.2 1.2 0 1 0 -2.4 0M398.8 24.0a1.2 1.2 0 1 0 2.4 0a1.2 1.2 0 1 0 -2.4 0M433.6 95.3a1.2 1.2 0 1 0 2.4 0a1.2 1.2 0 1 0 -2.4 0M410.7 166.1a1.2 1.2 0 1 0 2.4 0a1.2 1.2 0 1 0 -2.4 0M432.5 237.3a1.2 1.2 0 1 0 2.4 0a1.2 1.2 0 1 0 -2.4 0M402.8 24.0a1.2 1.2 0 1 0 2.4 0a1.2 1.2 0 1 0 -2.4 0M437.6 95.3a1.2 1.2 0 1 0 2.4 0a1.2 1.2 0 1 0 -2.4 0M435.9 166.1a1.2 1.2 0 1 0 2.4 0a1.2 1.2 0 1 0 -2.4 0M444.8 237.3a1.2 1.2 0 1 0 2.4 0a1.2 1.2 0 1 0 -2.4 0M488.3 24.0a1.2 1.2 0 1 0 2.4 0a1.2 1.2 0 1 0 -2.4 0M528.3 95.3a1.2 1.2 0 1 0 2.4 0a1.2 1.2 0 1 0 -2.4 0M531.5 166.1a1.2 1.2 0 1 0 2.4 0a1.2 1.2 0 1 0 -2.4 0M512.1 237.3a1.2 1.2 0 1 0 2.4 0a1.2 1.2 0 1 0 -2.4 0M485.8 24.0a1.2 1.2 0 1 0 2.4 0a1.2 1.2 0 1 0 -2.4 0M528.3 95.3a1.2 1.2 0 1 0 2.4 0a1.2 1.2 0 1 0 -2.4 0M516.5 166.1a1.2 1.2 0 1 0 2.4 0a1.2 1.2 0 1 0 -2.4 0M488.8 237.3a1.2 1.2 0 1 0 2.4 0a1.2 1.2 0 1 0 -2.4 0M468.8 24.0a1.2 1.2 0 1 0 2.4 0a1.2 1.2 0 1 0 -2.4 0M498.8 95.3a1.2 1.2 0 1 0 2.4 0a1.2 1.2 0 1 0 -2.4 0M538.2 166.1a1.2 1.2 0 1 0 2.4 0a1.2 1.2 0 1 0 -2.4 0M520.0 237.3a1.2 1.2 0 1 0 2.4 0a1.2 1.2 0 1 0 -2.4 0M447.1 24.0a1.2 1.2 0 1 0 2.4 0a1.2 1.2 0 1 0 -2.4 0M490.4 95.3a1.2 1.2 0 1 0 2.4 0a1.2 1.2 0 1 0 -2.4 0M492.2 166.1a1.2 1.2 0 1 0 2.4 0a1.2 1.2 0 1 0 -2.4 0M520.0 237.3a1.2 1.2 0 1 0 2.4 0a1.2 1.2 0 1 0 -2.4 0M432.2 24.0a1.2 1.2 0 1 0 2.4 0a1.2 1.2 0 1 0 -2.4 0M514.2 95.3a1.2 1.2 0 1 0 2.4 0a1.2 1.2 0 1 0 -2.4 0M522.1 166.1a1.2 1.2 0 1 0 2.4 0a1.2 1.2 0 1 0 -2.4 0M477.8 237.3a1.2 1.2 0 1 0 2.4 0a1.2 1.2 0 1 0 -2.4 0M450.9 24.0a1.2 1.2 0 1 0 2.4 0a1.2 1.2 0 1 0 -2.4 0M477.5 95.3a1.2 1.2 0 1 0 2.4 0a1.2 1.2 0 1 0 -2.4 0M505.8 166.1a1.2 1.2 0 1 0 2.4 0a1.2 1.2 0 1 0 -2.4 0M506.3 237.3a1.2 1.2 0 1 0 2.4 0a1.2 1.2 0 1 0 -2.4 0M429.9 24.0a1.2 1.2 0 1 0 2.4 0a1.2 1.2 0 1 0 -2.4 0M507.7 95.3a1.2 1.2 0 1 0 2.4 0a1.2 1.2 0 1 0 -2.4 0M511.2 166.1a1.2 1.2 0 1 0 2.4 0a1.2 1.2 0 1 0 -2.4 0M498.5 237.3a1.2 1.2 0 1 0 2.4 0a1.2 1.2 0 1 0 -2.4 0M440.0 24.0a1.2 1.2 0 1 0 2.4 0a1.2 1.2 0 1 0 -2.4 0M482.4 95.3a1.2 1.2 0 1 0 2.4 0a1.2 1.2 0 1 0 -2.4 0M495.8 166.1a1.2 1.2 0 1 0 2.4 0a1.2 1.2 0 1 0 -2.4 0M510.0 237.3a1.2 1.2 0 1 0 2.4 0a1.2 1.2 0 1 0 -2.4 0M411.7 24.0a1.2 1.2 0 1 0 2.4 0a1.2 1.2 0 1 0 -2.4 0M442.8 95.3a1.2 1.2 0 1 0 2.4 0a1.2 1.2 0 1 0 -2.4 0M437.9 166.1a1.2 1.2 0 1 0 2.4 0a1.2 1.2 0 1 0 -2.4 0M439.4 237.3a1.2 1.2 0 1 0 2.4 0a1.2 1.2 0 1 0 -2.4 0M426.5 24.0a1.2 1.2 0 1 0 2.4 0a1.2 1.2 0 1 0 -2.4 0M470.2 95.3a1.2 1.2 0 1 0 2.4 0a1.2 1.2 0 1 0 -2.4 0M486.0 166.1a1.2 1.2 0 1 0 2.4 0a1.2 1.2 0 1 0 -2.4 0M477.8 237.3a1.2 1.2 0 1 0 2.4 0a1.2 1.2 0 1 0 -2.4 0M406.7 24.0a1.2 1.2 0 1 0 2.4 0a1.2 1.2 0 1 0 -2.4 0M406.9 95.3a1.2 1.2 0 1 0 2.4 0a1.2 1.2 0 1 0 -2.4 0M434.6 166.1a1.2 1.2 0 1 0 2.4 0a1.2 1.2 0 1 0 -2.4 0M448.5 237.3a1.2 1.2 0 1 0 2.4 0a1.2 1.2 0 1 0 -2.4 0M466.3 24.0a1.2 1.2 0 1 0 2.4 0a1.2 1.2 0 1 0 -2.4 0M484.3 95.3a1.2 1.2 0 1 0 2.4 0a1.2 1.2 0 1 0 -2.4 0M445.7 166.1a1.2 1.2 0 1 0 2.4 0a1.2 1.2 0 1 0 -2.4 0M445.8 237.3a1.2 1.2 0 1 0 2.4 0a1.2 1.2 0 1 0 -2.4 0M413.2 24.0a1.2 1.2 0 1 0 2.4 0a1.2 1.2 0 1 0 -2.4 0M432.1 95.3a1.2 1.2 0 1 0 2.4 0a1.2 1.2 0 1 0 -2.4 0M474.9 166.1a1.2 1.2 0 1 0 2.4 0a1.2 1.2 0 1 0 -2.4 0M471.1 237.3a1.2 1.2 0 1 0 2.4 0a1.2 1.2 0 1 0 -2.4 0M405.9 24.0a1.2 1.2 0 1 0 2.4 0a1.2 1.2 0 1 0 -2.4 0M411.5 95.3a1.2 1.2 0 1 0 2.4 0a1.2 1.2 0 1 0 -2.4 0M460.8 166.1a1.2 1.2 0 1 0 2.4 0a1.2 1.2 0 1 0 -2.4 0M427.6 237.3a1.2 1.2 0 1 0 2.4 0a1.2 1.2 0 1 0 -2.4 0M415.6 24.0a1.2 1.2 0 1 0 2.4 0a1.2 1.2 0 1 0 -2.4 0M454.1 95.3a1.2 1.2 0 1 0 2.4 0a1.2 1.2 0 1 0 -2.4 0M465.7 166.1a1.2 1.2 0 1 0 2.4 0a1.2 1.2 0 1 0 -2.4 0M437.8 237.3a1.2 1.2 0 1 0 2.4 0a1.2 1.2 0 1 0 -2.4 0M413.6 24.0a1.2 1.2 0 1 0 2.4 0a1.2 1.2 0 1 0 -2.4 0M424.0 95.3a1.2 1.2 0 1 0 2.4 0a1.2 1.2 0 1 0 -2.4 0M432.6 166.1a1.2 1.2 0 1 0 2.4 0a1.2 1.2 0 1 0 -2.4 0M440.4 237.3a1.2 1.2 0 1 0 2.4 0a1.2 1.2 0 1 0 -2.4 0M422.2 24.0a1.2 1.2 0 1 0 2.4 0a1.2 1.2 0 1 0 -2.4 0M444.8 95.3a1.2 1.2 0 1 0 2.4 0a1.2 1.2 0 1 0 -2.4 0M476.7 166.1a1.2 1.2 0 1 0 2.4 0a1.2 1.2 0 1 0 -2.4 0M443.4 237.3a1.2 1.2 0 1 0 2.4 0a1.2 1.2 0 1 0 -2.4 0M408.2 24.0a1.2 1.2 0 1 0 2.4 0a1.2 1.2 0 1 0 -2.4 0M413.7 95.3a1.2 1.2 0 1 0 2.4 0a1.2 1.2 0 1 0 -2.4 0M407.7 166.1a1.2 1.2 0 1 0 2.4 0a1.2 1.2 0 1 0 -2.4 0M415.8 237.3a1.2 1.2 0 1 0 2.4 0a1.2 1.2 0 1 0 -2.4 0M430.9 24.0a1.2 1.2 0 1 0 2.4 0a1.2 1.2 0 1 0 -2.4 0M486.8 95.3a1.2 1.2 0 1 0 2.4 0a1.2 1.2 0 1 0 -2.4 0M487.7 166.1a1.2 1.2 0 1 0 2.4 0a1.2 1.2 0 1 0 -2.4 0M444.5 237.3a1.2 1.2 0 1 0 2.4 0a1.2 1.2 0 1 0 -2.4 0M495.2 24.0a1.2 1.2 0 1 0 2.4 0a1.2 1.2 0 1 0 -2.4 0M502.8 95.3a1.2 1.2 0 1 0 2.4 0a1.2 1.2 0 1 0 -2.4 0M508.8 166.1a1.2 1.2 0 1 0 2.4 0a1.2 1.2 0 1 0 -2.4 0M477.0 237.3a1.2 1.2 0 1 0 2.4 0a1.2 1.2 0 1 0 -2.4 0M406.9 24.0a1.2 1.2 0 1 0 2.4 0a1.2 1.2 0 1 0 -2.4 0M419.8 95.3a1.2 1.2 0 1 0 2.4 0a1.2 1.2 0 1 0 -2.4 0M409.6 166.1a1.2 1.2 0 1 0 2.4 0a1.2 1.2 0 1 0 -2.4 0M424.6 237.3a1.2 1.2 0 1 0 2.4 0a1.2 1.2 0 1 0 -2.4 0M427.2 24.0a1.2 1.2 0 1 0 2.4 0a1.2 1.2 0 1 0 -2.4 0M455.7 95.3a1.2 1.2 0 1 0 2.4 0a1.2 1.2 0 1 0 -2.4 0M484.6 166.1a1.2 1.2 0 1 0 2.4 0a1.2 1.2 0 1 0 -2.4 0M446.9 237.3a1.2 1.2 0 1 0 2.4 0a1.2 1.2 0 1 0 -2.4 0M414.4 24.0a1.2 1.2 0 1 0 2.4 0a1.2 1.2 0 1 0 -2.4 0M449.1 95.3a1.2 1.2 0 1 0 2.4 0a1.2 1.2 0 1 0 -2.4 0M449.0 166.1a1.2 1.2 0 1 0 2.4 0a1.2 1.2 0 1 0 -2.4 0M449.4 237.3a1.2 1.2 0 1 0 2.4 0a1.2 1.2 0 1 0 -2.4 0M424.9 24.0a1.2 1.2 0 1 0 2.4 0a1.2 1.2 0 1 0 -2.4 0M452.3 95.3a1.2 1.2 0 1 0 2.4 0a1.2 1.2 0 1 0 -2.4 0M414.6 166.1a1.2 1.2 0 1 0 2.4 0a1.2 1.2 0 1 0 -2.4 0M457.5 237.3a1.2 1.2 0 1 0 2.4 0a1.2 1.2 0 1 0 -2.4 0M405.4 24.0a1.2 1.2 0 1 0 2.4 0a1.2 1.2 0 1 0 -2.4 0M409.0 95.3a1.2 1.2 0 1 0 2.4 0a1.2 1.2 0 1 0 -2.4 0M417.8 166.1a1.2 1.2 0 1 0 2.4 0a1.2 1.2 0 1 0 -2.4 0M433.4 237.3a1.2 1.2 0 1 0 2.4 0a1.2 1.2 0 1 0 -2.4 0M407.4 24.0a1.2 1.2 0 1 0 2.4 0a1.2 1.2 0 1 0 -2.4 0M434.7 95.3a1.2 1.2 0 1 0 2.4 0a1.2 1.2 0 1 0 -2.4 0M423.2 166.1a1.2 1.2 0 1 0 2.4 0a1.2 1.2 0 1 0 -2.4 0M459.0 237.3a1.2 1.2 0 1 0 2.4 0a1.2 1.2 0 1 0 -2.4 0M432.8 24.0a1.2 1.2 0 1 0 2.4 0a1.2 1.2 0 1 0 -2.4 0M473.4 95.3a1.2 1.2 0 1 0 2.4 0a1.2 1.2 0 1 0 -2.4 0M480.5 166.1a1.2 1.2 0 1 0 2.4 0a1.2 1.2 0 1 0 -2.4 0M466.8 237.3a1.2 1.2 0 1 0 2.4 0a1.2 1.2 0 1 0 -2.4 0M419.5 24.0a1.2 1.2 0 1 0 2.4 0a1.2 1.2 0 1 0 -2.4 0M459.1 95.3a1.2 1.2 0 1 0 2.4 0a1.2 1.2 0 1 0 -2.4 0M431.5 166.1a1.2 1.2 0 1 0 2.4 0a1.2 1.2 0 1 0 -2.4 0M423.5 237.3a1.2 1.2 0 1 0 2.4 0a1.2 1.2 0 1 0 -2.4 0M473.7 24.0a1.2 1.2 0 1 0 2.4 0a1.2 1.2 0 1 0 -2.4 0M501.4 95.3a1.2 1.2 0 1 0 2.4 0a1.2 1.2 0 1 0 -2.4 0M504.9 166.1a1.2 1.2 0 1 0 2.4 0a1.2 1.2 0 1 0 -2.4 0M484.0 237.3a1.2 1.2 0 1 0 2.4 0a1.2 1.2 0 1 0 -2.4 0M410.9 24.0a1.2 1.2 0 1 0 2.4 0a1.2 1.2 0 1 0 -2.4 0M418.0 95.3a1.2 1.2 0 1 0 2.4 0a1.2 1.2 0 1 0 -2.4 0M416.3 166.1a1.2 1.2 0 1 0 2.4 0a1.2 1.2 0 1 0 -2.4 0M420.7 237.3a1.2 1.2 0 1 0 2.4 0a1.2 1.2 0 1 0 -2.4 0M422.7 24.0a1.2 1.2 0 1 0 2.4 0a1.2 1.2 0 1 0 -2.4 0M468.2 95.3a1.2 1.2 0 1 0 2.4 0a1.2 1.2 0 1 0 -2.4 0M479.6 166.1a1.2 1.2 0 1 0 2.4 0a1.2 1.2 0 1 0 -2.4 0M475.7 237.3a1.2 1.2 0 1 0 2.4 0a1.2 1.2 0 1 0 -2.4 0M488.1 24.0a1.2 1.2 0 1 0 2.4 0a1.2 1.2 0 1 0 -2.4 0M503.6 95.3a1.2 1.2 0 1 0 2.4 0a1.2 1.2 0 1 0 -2.4 0M499.3 166.1a1.2 1.2 0 1 0 2.4 0a1.2 1.2 0 1 0 -2.4 0M455.0 237.3a1.2 1.2 0 1 0 2.4 0a1.2 1.2 0 1 0 -2.4 0M410.1 24.0a1.2 1.2 0 1 0 2.4 0a1.2 1.2 0 1 0 -2.4 0M415.1 95.3a1.2 1.2 0 1 0 2.4 0a1.2 1.2 0 1 0 -2.4 0M421.8 166.1a1.2 1.2 0 1 0 2.4 0a1.2 1.2 0 1 0 -2.4 0M461.2 237.3a1.2 1.2 0 1 0 2.4 0a1.2 1.2 0 1 0 -2.4 0M408.6 24.0a1.2 1.2 0 1 0 2.4 0a1.2 1.2 0 1 0 -2.4 0M425.6 95.3a1.2 1.2 0 1 0 2.4 0a1.2 1.2 0 1 0 -2.4 0M470.5 166.1a1.2 1.2 0 1 0 2.4 0a1.2 1.2 0 1 0 -2.4 0M464.5 237.3a1.2 1.2 0 1 0 2.4 0a1.2 1.2 0 1 0 -2.4 0M420.2 24.0a1.2 1.2 0 1 0 2.4 0a1.2 1.2 0 1 0 -2.4 0M444.3 95.3a1.2 1.2 0 1 0 2.4 0a1.2 1.2 0 1 0 -2.4 0M461.6 166.1a1.2 1.2 0 1 0 2.4 0a1.2 1.2 0 1 0 -2.4 0M422.5 237.3a1.2 1.2 0 1 0 2.4 0a1.2 1.2 0 1 0 -2.4 0M418.2 24.0a1.2 1.2 0 1 0 2.4 0a1.2 1.2 0 1 0 -2.4 0M467.2 95.3a1.2 1.2 0 1 0 2.4 0a1.2 1.2 0 1 0 -2.4 0M458.2 166.1a1.2 1.2 0 1 0 2.4 0a1.2 1.2 0 1 0 -2.4 0M463.6 237.3a1.2 1.2 0 1 0 2.4 0a1.2 1.2 0 1 0 -2.4 0M442.0 24.0a1.2 1.2 0 1 0 2.4 0a1.2 1.2 0 1 0 -2.4 0M479.6 95.3a1.2 1.2 0 1 0 2.4 0a1.2 1.2 0 1 0 -2.4 0M448.6 166.1a1.2 1.2 0 1 0 2.4 0a1.2 1.2 0 1 0 -2.4 0M472.7 237.3a1.2 1.2 0 1 0 2.4 0a1.2 1.2 0 1 0 -2.4 0M420.8 24.0a1.2 1.2 0 1 0 2.4 0a1.2 1.2 0 1 0 -2.4 0M446.6 95.3a1.2 1.2 0 1 0 2.4 0a1.2 1.2 0 1 0 -2.4 0M482.7 166.1a1.2 1.2 0 1 0 2.4 0a1.2 1.2 0 1 0 -2.4 0M452.7 237.3a1.2 1.2 0 1 0 2.4 0a1.2 1.2 0 1 0 -2.4 0M410.5 24.0a1.2 1.2 0 1 0 2.4 0a1.2 1.2 0 1 0 -2.4 0M450.8 95.3a1.2 1.2 0 1 0 2.4 0a1.2 1.2 0 1 0 -2.4 0M477.9 166.1a1.2 1.2 0 1 0 2.4 0a1.2 1.2 0 1 0 -2.4 0M480.9 237.3a1.2 1.2 0 1 0 2.4 0a1.2 1.2 0 1 0 -2.4 0M426.1 24.0a1.2 1.2 0 1 0 2.4 0a1.2 1.2 0 1 0 -2.4 0M475.8 95.3a1.2 1.2 0 1 0 2.4 0a1.2 1.2 0 1 0 -2.4 0M464.1 166.1a1.2 1.2 0 1 0 2.4 0a1.2 1.2 0 1 0 -2.4 0M426.0 237.3a1.2 1.2 0 1 0 2.4 0a1.2 1.2 0 1 0 -2.4 0M481.0 24.0a1.2 1.2 0 1 0 2.4 0a1.2 1.2 0 1 0 -2.4 0M506.8 95.3a1.2 1.2 0 1 0 2.4 0a1.2 1.2 0 1 0 -2.4 0M505.7 166.1a1.2 1.2 0 1 0 2.4 0a1.2 1.2 0 1 0 -2.4 0M487.7 237.3a1.2 1.2 0 1 0 2.4 0a1.2 1.2 0 1 0 -2.4 0M456.7 24.0a1.2 1.2 0 1 0 2.4 0a1.2 1.2 0 1 0 -2.4 0M497.5 95.3a1.2 1.2 0 1 0 2.4 0a1.2 1.2 0 1 0 -2.4 0M466.8 166.1a1.2 1.2 0 1 0 2.4 0a1.2 1.2 0 1 0 -2.4 0M427.8 237.3a1.2 1.2 0 1 0 2.4 0a1.2 1.2 0 1 0 -2.4 0M404.6 24.0a1.2 1.2 0 1 0 2.4 0a1.2 1.2 0 1 0 -2.4 0M403.7 95.3a1.2 1.2 0 1 0 2.4 0a1.2 1.2 0 1 0 -2.4 0M405.8 166.1a1.2 1.2 0 1 0 2.4 0a1.2 1.2 0 1 0 -2.4 0M422.1 237.3a1.2 1.2 0 1 0 2.4 0a1.2 1.2 0 1 0 -2.4 0M417.0 24.0a1.2 1.2 0 1 0 2.4 0a1.2 1.2 0 1 0 -2.4 0M438.6 95.3a1.2 1.2 0 1 0 2.4 0a1.2 1.2 0 1 0 -2.4 0M430.0 166.1a1.2 1.2 0 1 0 2.4 0a1.2 1.2 0 1 0 -2.4 0M418.5 237.3a1.2 1.2 0 1 0 2.4 0a1.2 1.2 0 1 0 -2.4 0M409.0 24.0a1.2 1.2 0 1 0 2.4 0a1.2 1.2 0 1 0 -2.4 0M421.4 95.3a1.2 1.2 0 1 0 2.4 0a1.2 1.2 0 1 0 -2.4 0M446.7 166.1a1.2 1.2 0 1 0 2.4 0a1.2 1.2 0 1 0 -2.4 0M417.4 237.3a1.2 1.2 0 1 0 2.4 0a1.2 1.2 0 1 0 -2.4 0M438.9 24.0a1.2 1.2 0 1 0 2.4 0a1.2 1.2 0 1 0 -2.4 0M485.5 95.3a1.2 1.2 0 1 0 2.4 0a1.2 1.2 0 1 0 -2.4 0M488.9 166.1a1.2 1.2 0 1 0 2.4 0a1.2 1.2 0 1 0 -2.4 0M474.6 237.3a1.2 1.2 0 1 0 2.4 0a1.2 1.2 0 1 0 -2.4 0M416.6 24.0a1.2 1.2 0 1 0 2.4 0a1.2 1.2 0 1 0 -2.4 0M447.5 95.3a1.2 1.2 0 1 0 2.4 0a1.2 1.2 0 1 0 -2.4 0M438.9 166.1a1.2 1.2 0 1 0 2.4 0a1.2 1.2 0 1 0 -2.4 0M484.9 237.3a1.2 1.2 0 1 0 2.4 0a1.2 1.2 0 1 0 -2.4 0M476.5 24.0a1.2 1.2 0 1 0 2.4 0a1.2 1.2 0 1 0 -2.4 0M492.8 95.3a1.2 1.2 0 1 0 2.4 0a1.2 1.2 0 1 0 -2.4 0M496.8 166.1a1.2 1.2 0 1 0 2.4 0a1.2 1.2 0 1 0 -2.4 0M463.0 237.3a1.2 1.2 0 1 0 2.4 0a1.2 1.2 0 1 0 -2.4 0M448.8 24.0a1.2 1.2 0 1 0 2.4 0a1.2 1.2 0 1 0 -2.4 0M481.2 95.3a1.2 1.2 0 1 0 2.4 0a1.2 1.2 0 1 0 -2.4 0M494.4 166.1a1.2 1.2 0 1 0 2.4 0a1.2 1.2 0 1 0 -2.4 0M486.6 237.3a1.2 1.2 0 1 0 2.4 0a1.2 1.2 0 1 0 -2.4 0M445.5 24.0a1.2 1.2 0 1 0 2.4 0a1.2 1.2 0 1 0 -2.4 0M459.5 95.3a1.2 1.2 0 1 0 2.4 0a1.2 1.2 0 1 0 -2.4 0M468.1 166.1a1.2 1.2 0 1 0 2.4 0a1.2 1.2 0 1 0 -2.4 0M460.3 237.3a1.2 1.2 0 1 0 2.4 0a1.2 1.2 0 1 0 -2.4 0M423.3 24.0a1.2 1.2 0 1 0 2.4 0a1.2 1.2 0 1 0 -2.4 0M462.4 95.3a1.2 1.2 0 1 0 2.4 0a1.2 1.2 0 1 0 -2.4 0M491.0 166.1a1.2 1.2 0 1 0 2.4 0a1.2 1.2 0 1 0 -2.4 0M461.8 237.3a1.2 1.2 0 1 0 2.4 0a1.2 1.2 0 1 0 -2.4 0M418.5 24.0a1.2 1.2 0 1 0 2.4 0a1.2 1.2 0 1 0 -2.4 0M430.3 95.3a1.2 1.2 0 1 0 2.4 0a1.2 1.2 0 1 0 -2.4 0M444.6 166.1a1.2 1.2 0 1 0 2.4 0a1.2 1.2 0 1 0 -2.4 0M454.0 237.3a1.2 1.2 0 1 0 2.4 0a1.2 1.2 0 1 0 -2.4 0M428.1 24.0a1.2 1.2 0 1 0 2.4 0a1.2 1.2 0 1 0 -2.4 0M441.3 95.3a1.2 1.2 0 1 0 2.4 0a1.2 1.2 0 1 0 -2.4 0M450.5 166.1a1.2 1.2 0 1 0 2.4 0a1.2 1.2 0 1 0 -2.4 0M479.9 237.3a1.2 1.2 0 1 0 2.4 0a1.2 1.2 0 1 0 -2.4 0M462.7 24.0a1.2 1.2 0 1 0 2.4 0a1.2 1.2 0 1 0 -2.4 0M495.1 95.3a1.2 1.2 0 1 0 2.4 0a1.2 1.2 0 1 0 -2.4 0M495.4 166.1a1.2 1.2 0 1 0 2.4 0a1.2 1.2 0 1 0 -2.4 0M450.5 237.3a1.2 1.2 0 1 0 2.4 0a1.2 1.2 0 1 0 -2.4 0M435.3 24.0a1.2 1.2 0 1 0 2.4 0a1.2 1.2 0 1 0 -2.4 0M471.2 95.3a1.2 1.2 0 1 0 2.4 0a1.2 1.2 0 1 0 -2.4 0M473.5 166.1a1.2 1.2 0 1 0 2.4 0a1.2 1.2 0 1 0 -2.4 0M466.1 237.3a1.2 1.2 0 1 0 2.4 0a1.2 1.2 0 1 0 -2.4 0M414.2 24.0a1.2 1.2 0 1 0 2.4 0a1.2 1.2 0 1 0 -2.4 0M417.2 95.3a1.2 1.2 0 1 0 2.4 0a1.2 1.2 0 1 0 -2.4 0M452.6 166.1a1.2 1.2 0 1 0 2.4 0a1.2 1.2 0 1 0 -2.4 0M456.2 237.3a1.2 1.2 0 1 0 2.4 0a1.2 1.2 0 1 0 -2.4 0M460.1 24.0a1.2 1.2 0 1 0 2.4 0a1.2 1.2 0 1 0 -2.4 0M499.7 95.3a1.2 1.2 0 1 0 2.4 0a1.2 1.2 0 1 0 -2.4 0M463.1 166.1a1.2 1.2 0 1 0 2.4 0a1.2 1.2 0 1 0 -2.4 0M430.4 237.3a1.2 1.2 0 1 0 2.4 0a1.2 1.2 0 1 0 -2.4 0M424.4 24.0a1.2 1.2 0 1 0 2.4 0a1.2 1.2 0 1 0 -2.4 0M493.4 95.3a1.2 1.2 0 1 0 2.4 0a1.2 1.2 0 1 0 -2.4 0M502.5 166.1a1.2 1.2 0 1 0 2.4 0a1.2 1.2 0 1 0 -2.4 0M491.0 237.3a1.2 1.2 0 1 0 2.4 0a1.2 1.2 0 1 0 -2.4 0M417.7 24.0a1.2 1.2 0 1 0 2.4 0a1.2 1.2 0 1 0 -2.4 0M428.7 95.3a1.2 1.2 0 1 0 2.4 0a1.2 1.2 0 1 0 -2.4 0M420.9 166.1a1.2 1.2 0 1 0 2.4 0a1.2 1.2 0 1 0 -2.4 0M468.5 237.3a1.2 1.2 0 1 0 2.4 0a1.2 1.2 0 1 0 -2.4 0M409.6 24.0a1.2 1.2 0 1 0 2.4 0a1.2 1.2 0 1 0 -2.4 0M456.9 95.3a1.2 1.2 0 1 0 2.4 0a1.2 1.2 0 1 0 -2.4 0M459.7 166.1a1.2 1.2 0 1 0 2.4 0a1.2 1.2 0 1 0 -2.4 0M435.8 237.3a1.2 1.2 0 1 0 2.4 0a1.2 1.2 0 1 0 -2.4 0M412.6 24.0a1.2 1.2 0 1 0 2.4 0a1.2 1.2 0 1 0 -2.4 0M426.3 95.3a1.2 1.2 0 1 0 2.4 0a1.2 1.2 0 1 0 -2.4 0M413.2 166.1a1.2 1.2 0 1 0 2.4 0a1.2 1.2 0 1 0 -2.4 0M458.4 237.3a1.2 1.2 0 1 0 2.4 0a1.2 1.2 0 1 0 -2.4 0M412.1 24.0a1.2 1.2 0 1 0 2.4 0a1.2 1.2 0 1 0 -2.4 0M427.6 95.3a1.2 1.2 0 1 0 2.4 0a1.2 1.2 0 1 0 -2.4 0M457.1 166.1a1.2 1.2 0 1 0 2.4 0a1.2 1.2 0 1 0 -2.4 0M451.5 237.3a1.2 1.2 0 1 0 2.4 0a1.2 1.2 0 1 0 -2.4 0M403.8 24.0a1.2 1.2 0 1 0 2.4 0a1.2 1.2 0 1 0 -2.4 0M399.8 95.3a1.2 1.2 0 1 0 2.4 0a1.2 1.2 0 1 0 -2.4 0M425.0 166.1a1.2 1.2 0 1 0 2.4 0a1.2 1.2 0 1 0 -2.4 0M434.9 237.3a1.2 1.2 0 1 0 2.4 0a1.2 1.2 0 1 0 -2.4 0M452.6 24.0a1.2 1.2 0 1 0 2.4 0a1.2 1.2 0 1 0 -2.4 0M466.0 95.3a1.2 1.2 0 1 0 2.4 0a1.2 1.2 0 1 0 -2.4 0M491.6 166.1a1.2 1.2 0 1 0 2.4 0a1.2 1.2 0 1 0 -2.4 0M489.0 237.3a1.2 1.2 0 1 0 2.4 0a1.2 1.2 0 1 0 -2.4 0M436.4 24.0a1.2 1.2 0 1 0 2.4 0a1.2 1.2 0 1 0 -2.4 0M488.6 95.3a1.2 1.2 0 1 0 2.4 0a1.2 1.2 0 1 0 -2.4 0M500.8 166.1a1.2 1.2 0 1 0 2.4 0a1.2 1.2 0 1 0 -2.4 0M482.2 237.3a1.2 1.2 0 1 0 2.4 0a1.2 1.2 0 1 0 -2.4 0M416.0 24.0a1.2 1.2 0 1 0 2.4 0a1.2 1.2 0 1 0 -2.4 0M453.5 95.3a1.2 1.2 0 1 0 2.4 0a1.2 1.2 0 1 0 -2.4 0M418.7 166.1a1.2 1.2 0 1 0 2.4 0a1.2 1.2 0 1 0 -2.4 0M436.7 237.3a1.2 1.2 0 1 0 2.4 0a1.2 1.2 0 1 0 -2.4 0M454.8 24.0a1.2 1.2 0 1 0 2.4 0a1.2 1.2 0 1 0 -2.4 0M474.5 95.3a1.2 1.2 0 1 0 2.4 0a1.2 1.2 0 1 0 -2.4 0M455.9 166.1a1.2 1.2 0 1 0 2.4 0a1.2 1.2 0 1 0 -2.4 0M479.0 237.3a1.2 1.2 0 1 0 2.4 0a1.2 1.2 0 1 0 -2.4 0M431.6 24.0a1.2 1.2 0 1 0 2.4 0a1.2 1.2 0 1 0 -2.4 0M463.5 95.3a1.2 1.2 0 1 0 2.4 0a1.2 1.2 0 1 0 -2.4 0M454.0 166.1a1.2 1.2 0 1 0 2.4 0a1.2 1.2 0 1 0 -2.4 0M471.8 237.3a1.2 1.2 0 1 0 2.4 0a1.2 1.2 0 1 0 -2.4 0M429.0 24.0a1.2 1.2 0 1 0 2.4 0a1.2 1.2 0 1 0 -2.4 0M436.5 95.3a1.2 1.2 0 1 0 2.4 0a1.2 1.2 0 1 0 -2.4 0M426.7 166.1a1.2 1.2 0 1 0 2.4 0a1.2 1.2 0 1 0 -2.4 0M453.6 237.3a1.2 1.2 0 1 0 2.4 0a1.2 1.2 0 1 0 -2.4 0M405.1 24.0a1.2 1.2 0 1 0 2.4 0a1.2 1.2 0 1 0 -2.4 0M404.9 95.3a1.2 1.2 0 1 0 2.4 0a1.2 1.2 0 1 0 -2.4 0M428.0 166.1a1.2 1.2 0 1 0 2.4 0a1.2 1.2 0 1 0 -2.4 0M419.3 237.3a1.2 1.2 0 1 0 2.4 0a1.2 1.2 0 1 0 -2.4 0M415.1 24.0a1.2 1.2 0 1 0 2.4 0a1.2 1.2 0 1 0 -2.4 0M461.0 95.3a1.2 1.2 0 1 0 2.4 0a1.2 1.2 0 1 0 -2.4 0M471.9 166.1a1.2 1.2 0 1 0 2.4 0a1.2 1.2 0 1 0 -2.4 0M429.7 237.3a1.2 1.2 0 1 0 2.4 0a1.2 1.2 0 1 0 -2.4 0M433.6 24.0a1.2 1.2 0 1 0 2.4 0a1.2 1.2 0 1 0 -2.4 0M440.0 95.3a1.2 1.2 0 1 0 2.4 0a1.2 1.2 0 1 0 -2.4 0M451.9 166.1a1.2 1.2 0 1 0 2.4 0a1.2 1.2 0 1 0 -2.4 0M469.8 237.3a1.2 1.2 0 1 0 2.4 0a1.2 1.2 0 1 0 -2.4 0" fill="#00ffff"/>
<path d="M419.5 24.0L440.6 95.3L442.3 166.1L443.6 237.3" fill="none" stroke="#000" stroke-width="1.4"/>
<rect x="417.2" y="21.7" width="4.6" height="4.6" fill="#000"/>
<rect x="438.3" y="93.0" width="4.6" height="4.6" fill="#000"/>
<rect x="440.0" y="163.8" width="4.6" height="4.6" fill="#000"/>
<rect x="441.3" y="235.0" width="4.6" height="4.6" fill="#000"/>
<rect x="454.3" y="34.6" width="98" height="45.6" fill="#fff" stroke="#222" stroke-width="1"/>
<path d="M459.3 43.8h23" stroke="#000" stroke-width="1.6"/>
<rect x="467.8" y="40.8" width="6" height="6" fill="#000"/>
<path d="M459.3 62.2h23" stroke="#00ffff" stroke-width="1" stroke-dasharray="1.6 0.4"/>
<circle cx="470.8" cy="62.2" r="1.45" fill="#00ffff"/>
<text x="486.1" y="47.7" class="lg">Median</text>
<text x="486.1" y="65.5" class="lg">Individual</text>
<text x="486.1" y="77.5" class="lg">Ground Motion</text>
<text x="328.5" y="263.8" class="tk" text-anchor="middle">0.1</text>
<text x="367.0" y="263.8" class="tk" text-anchor="middle">0.2</text>
<text x="405.6" y="263.8" class="tk" text-anchor="middle">0.3</text>
<text x="444.1" y="263.8" class="tk" text-anchor="middle">0.4</text>
<text x="482.6" y="263.8" class="tk" text-anchor="middle">0.5</text>
<text x="521.1" y="263.8" class="tk" text-anchor="middle">0.6</text>
<text x="559.7" y="263.8" class="tk" text-anchor="middle">0.7</text>
<text x="323.2" y="27.6" class="tk" text-anchor="end">4</text>
<text x="323.2" y="98.9" class="tk" text-anchor="end">3</text>
<text x="323.2" y="169.7" class="tk" text-anchor="end">2</text>
<text x="323.2" y="240.9" class="tk" text-anchor="end">1</text>
<text x="444" y="282.6" class="al" text-anchor="middle">PFA</text>
<text transform="translate(305.7 137.6) rotate(-90)" class="al" text-anchor="middle">Story #</text>
<text x="297.8" y="14.6" class="pl">(b)</text>
</svg>
</body></html>
